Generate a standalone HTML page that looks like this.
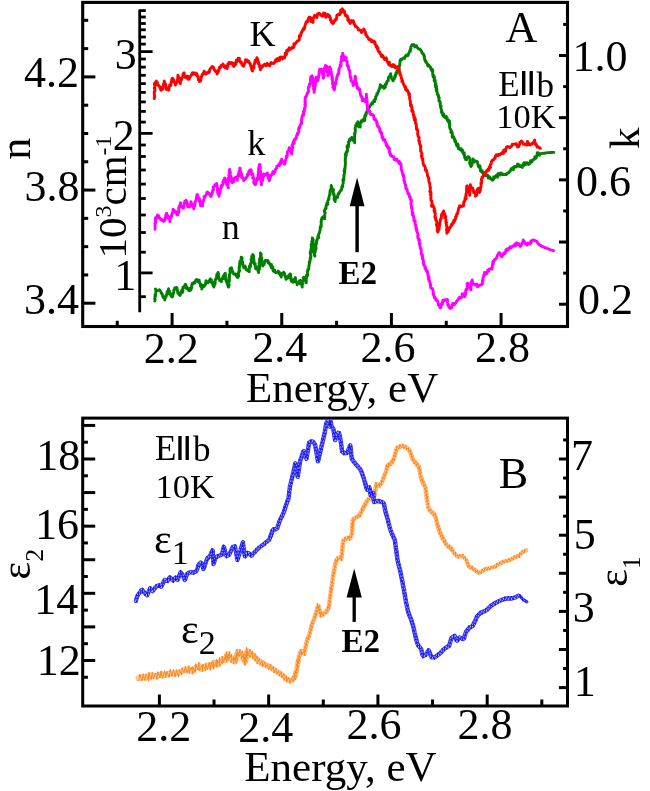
<!DOCTYPE html>
<html><head><meta charset="utf-8"><title>Optical constants</title>
<style>html,body{margin:0;padding:0;background:#fff;overflow:hidden}svg{display:block}</style></head>
<body><svg width="650" height="791" viewBox="0 0 650 791">
<defs><clipPath id="clipB"><rect x="84" y="419.5" width="482" height="285"/></clipPath></defs>
<rect width="650" height="791" fill="#fff"/>
<rect x="82.7" y="2.4" width="484.8" height="324.1" fill="none" stroke="#000" stroke-width="3.1"/>
<line x1="82.70" y1="20.32" x2="88.20" y2="20.32" stroke="#000" stroke-width="3"/>
<line x1="82.70" y1="48.61" x2="88.20" y2="48.61" stroke="#000" stroke-width="3"/>
<line x1="82.70" y1="76.90" x2="95.40" y2="76.90" stroke="#000" stroke-width="3"/>
<line x1="82.70" y1="105.19" x2="88.20" y2="105.19" stroke="#000" stroke-width="3"/>
<line x1="82.70" y1="133.48" x2="88.20" y2="133.48" stroke="#000" stroke-width="3"/>
<line x1="82.70" y1="161.77" x2="88.20" y2="161.77" stroke="#000" stroke-width="3"/>
<line x1="82.70" y1="190.06" x2="95.40" y2="190.06" stroke="#000" stroke-width="3"/>
<line x1="82.70" y1="218.35" x2="88.20" y2="218.35" stroke="#000" stroke-width="3"/>
<line x1="82.70" y1="246.64" x2="88.20" y2="246.64" stroke="#000" stroke-width="3"/>
<line x1="82.70" y1="274.93" x2="88.20" y2="274.93" stroke="#000" stroke-width="3"/>
<line x1="82.70" y1="303.22" x2="95.40" y2="303.22" stroke="#000" stroke-width="3"/>
<line x1="567.50" y1="24.41" x2="563.20" y2="24.41" stroke="#000" stroke-width="3"/>
<line x1="567.50" y1="55.50" x2="559.00" y2="55.50" stroke="#000" stroke-width="3"/>
<line x1="567.50" y1="86.59" x2="563.20" y2="86.59" stroke="#000" stroke-width="3"/>
<line x1="567.50" y1="117.68" x2="559.00" y2="117.68" stroke="#000" stroke-width="3"/>
<line x1="567.50" y1="148.77" x2="563.20" y2="148.77" stroke="#000" stroke-width="3"/>
<line x1="567.50" y1="179.86" x2="559.00" y2="179.86" stroke="#000" stroke-width="3"/>
<line x1="567.50" y1="210.95" x2="563.20" y2="210.95" stroke="#000" stroke-width="3"/>
<line x1="567.50" y1="242.04" x2="559.00" y2="242.04" stroke="#000" stroke-width="3"/>
<line x1="567.50" y1="273.13" x2="563.20" y2="273.13" stroke="#000" stroke-width="3"/>
<line x1="567.50" y1="304.22" x2="559.00" y2="304.22" stroke="#000" stroke-width="3"/>
<line x1="117.27" y1="326.50" x2="117.27" y2="320.80" stroke="#000" stroke-width="3"/>
<line x1="172.10" y1="326.50" x2="172.10" y2="313.00" stroke="#000" stroke-width="3"/>
<line x1="226.93" y1="326.50" x2="226.93" y2="320.80" stroke="#000" stroke-width="3"/>
<line x1="281.76" y1="326.50" x2="281.76" y2="313.00" stroke="#000" stroke-width="3"/>
<line x1="336.59" y1="326.50" x2="336.59" y2="320.80" stroke="#000" stroke-width="3"/>
<line x1="391.42" y1="326.50" x2="391.42" y2="313.00" stroke="#000" stroke-width="3"/>
<line x1="446.25" y1="326.50" x2="446.25" y2="320.80" stroke="#000" stroke-width="3"/>
<line x1="501.08" y1="326.50" x2="501.08" y2="313.00" stroke="#000" stroke-width="3"/>
<line x1="139.70" y1="9.60" x2="139.70" y2="312.30" stroke="#000" stroke-width="2.8"/>
<line x1="139.70" y1="10.60" x2="145.80" y2="10.60" stroke="#000" stroke-width="2.8"/>
<line x1="139.70" y1="17.00" x2="145.80" y2="17.00" stroke="#000" stroke-width="2.8"/>
<line x1="139.70" y1="23.50" x2="145.80" y2="23.50" stroke="#000" stroke-width="2.8"/>
<line x1="139.70" y1="29.80" x2="145.80" y2="29.80" stroke="#000" stroke-width="2.8"/>
<line x1="139.70" y1="37.00" x2="145.80" y2="37.00" stroke="#000" stroke-width="2.8"/>
<line x1="139.70" y1="44.10" x2="145.80" y2="44.10" stroke="#000" stroke-width="2.8"/>
<line x1="139.70" y1="59.00" x2="145.80" y2="59.00" stroke="#000" stroke-width="2.8"/>
<line x1="139.70" y1="67.10" x2="145.80" y2="67.10" stroke="#000" stroke-width="2.8"/>
<line x1="139.70" y1="75.30" x2="145.80" y2="75.30" stroke="#000" stroke-width="2.8"/>
<line x1="139.70" y1="83.60" x2="145.80" y2="83.60" stroke="#000" stroke-width="2.8"/>
<line x1="139.70" y1="92.40" x2="145.80" y2="92.40" stroke="#000" stroke-width="2.8"/>
<line x1="139.70" y1="101.90" x2="145.80" y2="101.90" stroke="#000" stroke-width="2.8"/>
<line x1="139.70" y1="111.40" x2="145.80" y2="111.40" stroke="#000" stroke-width="2.8"/>
<line x1="139.70" y1="122.10" x2="145.80" y2="122.10" stroke="#000" stroke-width="2.8"/>
<line x1="139.70" y1="145.00" x2="145.80" y2="145.00" stroke="#000" stroke-width="2.8"/>
<line x1="139.70" y1="156.50" x2="145.80" y2="156.50" stroke="#000" stroke-width="2.8"/>
<line x1="139.70" y1="170.00" x2="145.80" y2="170.00" stroke="#000" stroke-width="2.8"/>
<line x1="139.70" y1="184.10" x2="145.80" y2="184.10" stroke="#000" stroke-width="2.8"/>
<line x1="139.70" y1="198.50" x2="145.80" y2="198.50" stroke="#000" stroke-width="2.8"/>
<line x1="139.70" y1="215.00" x2="145.80" y2="215.00" stroke="#000" stroke-width="2.8"/>
<line x1="139.70" y1="232.50" x2="145.80" y2="232.50" stroke="#000" stroke-width="2.8"/>
<line x1="139.70" y1="252.20" x2="145.80" y2="252.20" stroke="#000" stroke-width="2.8"/>
<line x1="139.70" y1="296.70" x2="145.80" y2="296.70" stroke="#000" stroke-width="2.8"/>
<line x1="139.70" y1="51.60" x2="152.60" y2="51.60" stroke="#000" stroke-width="2.8"/>
<line x1="139.70" y1="133.40" x2="152.60" y2="133.40" stroke="#000" stroke-width="2.8"/>
<line x1="139.70" y1="272.90" x2="152.60" y2="272.90" stroke="#000" stroke-width="2.8"/>
<rect x="82.7" y="418.1" width="484.8" height="287.9" fill="none" stroke="#000" stroke-width="3"/>
<line x1="82.70" y1="425.42" x2="95.20" y2="425.42" stroke="#000" stroke-width="3"/>
<line x1="82.70" y1="442.21" x2="87.90" y2="442.21" stroke="#000" stroke-width="3"/>
<line x1="82.70" y1="459.00" x2="95.20" y2="459.00" stroke="#000" stroke-width="3"/>
<line x1="82.70" y1="475.79" x2="87.90" y2="475.79" stroke="#000" stroke-width="3"/>
<line x1="82.70" y1="492.58" x2="95.20" y2="492.58" stroke="#000" stroke-width="3"/>
<line x1="82.70" y1="509.37" x2="87.90" y2="509.37" stroke="#000" stroke-width="3"/>
<line x1="82.70" y1="526.16" x2="95.20" y2="526.16" stroke="#000" stroke-width="3"/>
<line x1="82.70" y1="542.95" x2="87.90" y2="542.95" stroke="#000" stroke-width="3"/>
<line x1="82.70" y1="559.74" x2="95.20" y2="559.74" stroke="#000" stroke-width="3"/>
<line x1="82.70" y1="576.53" x2="87.90" y2="576.53" stroke="#000" stroke-width="3"/>
<line x1="82.70" y1="593.32" x2="95.20" y2="593.32" stroke="#000" stroke-width="3"/>
<line x1="82.70" y1="610.11" x2="87.90" y2="610.11" stroke="#000" stroke-width="3"/>
<line x1="82.70" y1="626.90" x2="95.20" y2="626.90" stroke="#000" stroke-width="3"/>
<line x1="82.70" y1="643.69" x2="87.90" y2="643.69" stroke="#000" stroke-width="3"/>
<line x1="82.70" y1="660.48" x2="95.20" y2="660.48" stroke="#000" stroke-width="3"/>
<line x1="82.70" y1="677.27" x2="87.90" y2="677.27" stroke="#000" stroke-width="3"/>
<line x1="567.50" y1="439.95" x2="563.10" y2="439.95" stroke="#000" stroke-width="3"/>
<line x1="567.50" y1="459.00" x2="558.90" y2="459.00" stroke="#000" stroke-width="3"/>
<line x1="567.50" y1="478.05" x2="563.10" y2="478.05" stroke="#000" stroke-width="3"/>
<line x1="567.50" y1="497.10" x2="558.90" y2="497.10" stroke="#000" stroke-width="3"/>
<line x1="567.50" y1="516.15" x2="563.10" y2="516.15" stroke="#000" stroke-width="3"/>
<line x1="567.50" y1="535.20" x2="558.90" y2="535.20" stroke="#000" stroke-width="3"/>
<line x1="567.50" y1="554.25" x2="563.10" y2="554.25" stroke="#000" stroke-width="3"/>
<line x1="567.50" y1="573.30" x2="558.90" y2="573.30" stroke="#000" stroke-width="3"/>
<line x1="567.50" y1="592.35" x2="563.10" y2="592.35" stroke="#000" stroke-width="3"/>
<line x1="567.50" y1="611.40" x2="558.90" y2="611.40" stroke="#000" stroke-width="3"/>
<line x1="567.50" y1="630.45" x2="563.10" y2="630.45" stroke="#000" stroke-width="3"/>
<line x1="567.50" y1="649.50" x2="558.90" y2="649.50" stroke="#000" stroke-width="3"/>
<line x1="567.50" y1="668.55" x2="563.10" y2="668.55" stroke="#000" stroke-width="3"/>
<line x1="567.50" y1="687.60" x2="558.90" y2="687.60" stroke="#000" stroke-width="3"/>
<line x1="159.40" y1="706.00" x2="159.40" y2="694.50" stroke="#000" stroke-width="3"/>
<line x1="214.03" y1="706.00" x2="214.03" y2="699.50" stroke="#000" stroke-width="3"/>
<line x1="268.66" y1="706.00" x2="268.66" y2="694.50" stroke="#000" stroke-width="3"/>
<line x1="323.29" y1="706.00" x2="323.29" y2="699.50" stroke="#000" stroke-width="3"/>
<line x1="377.92" y1="706.00" x2="377.92" y2="694.50" stroke="#000" stroke-width="3"/>
<line x1="432.55" y1="706.00" x2="432.55" y2="699.50" stroke="#000" stroke-width="3"/>
<line x1="487.18" y1="706.00" x2="487.18" y2="694.50" stroke="#000" stroke-width="3"/>
<line x1="541.81" y1="706.00" x2="541.81" y2="699.50" stroke="#000" stroke-width="3"/>
<line x1="357.1" y1="205.2" x2="357.1" y2="252.2" stroke="#000" stroke-width="3.4"/>
<polygon points="357.1,177.4 349.70000000000005,206.2 364.5,206.2" fill="#000"/>
<line x1="354.2" y1="596.4" x2="354.2" y2="621.9" stroke="#000" stroke-width="3.3"/>
<polygon points="354.2,568.5 346.59999999999997,597.4 361.8,597.4" fill="#000"/>
<polyline points="154.8,301.1 155.2,299.8 155.2,299.8 154.7,299.3 154.8,298.1 154.9,295.9 155.3,297.4 155.1,294.4 155.6,295.8 155.7,293.0 156.1,290.8 156.1,290.6 155.4,289.0 156.2,291.3 157.1,290.8 158.5,290.4 159.3,289.7 159.8,290.4 161.0,292.0 161.2,293.4 161.8,293.3 162.7,295.5 162.6,295.9 163.4,297.8 164.1,296.6 164.9,296.9 164.8,300.0 164.9,298.3 165.1,298.0 166.1,296.7 166.5,294.9 166.6,294.9 166.8,293.4 167.4,294.2 167.3,292.2 167.2,291.4 168.1,291.5 168.6,288.8 168.6,291.0 168.8,291.2 169.4,290.9 169.7,294.0 170.3,293.1 171.0,296.1 171.2,295.5 172.1,297.1 172.8,296.1 172.6,293.7 173.1,294.3 174.1,290.9 173.7,290.3 174.1,290.2 174.9,288.5 174.7,288.1 175.4,287.7 176.4,287.9 176.3,288.5 176.9,287.6 177.5,291.0 177.8,291.9 177.7,291.5 177.8,293.2 178.1,292.2 178.7,293.5 179.2,294.0 179.2,294.7 179.8,294.6 180.1,295.4 181.2,292.1 181.3,291.8 181.8,290.2 182.8,292.2 182.8,289.6 182.9,287.4 183.6,287.1 184.5,285.8 184.2,287.6 185.2,284.4 185.9,284.7 186.6,288.6 187.7,288.3 187.7,287.9 188.4,290.0 189.4,290.8 189.8,288.4 190.7,290.1 191.3,288.6 191.7,287.5 191.6,285.9 192.2,283.4 192.3,283.3 193.0,283.9 194.2,282.2 194.7,283.1 195.7,280.7 195.9,279.9 196.8,279.5 198.2,281.6 199.2,280.1 199.4,282.1 199.2,282.6 200.4,283.9 200.6,283.8 200.4,285.8 201.0,286.8 202.0,286.3 201.8,289.1 202.7,285.9 202.8,285.1 204.2,286.5 204.1,285.8 205.6,284.5 205.6,283.4 206.0,280.8 207.7,282.4 208.0,282.8 208.8,282.0 210.0,279.2 210.3,278.9 211.0,279.7 211.4,280.0 211.6,282.6 212.2,282.0 212.8,284.5 213.0,285.5 213.4,285.1 213.8,284.3 214.1,285.8 213.9,287.0 214.3,284.9 215.0,284.2 214.8,283.1 215.3,283.0 215.0,281.3 215.4,279.4 216.1,279.2 216.1,279.0 216.7,277.0 216.6,276.2 216.7,275.9 216.8,274.4 217.1,274.8 217.5,273.6 218.1,272.4 218.0,275.7 218.7,273.9 218.3,275.9 218.6,276.1 218.9,278.5 220.0,280.2 219.7,280.6 220.5,279.5 221.4,281.6 221.3,280.8 222.1,278.4 223.3,278.8 223.0,276.6 224.0,275.5 224.2,274.6 225.3,273.2 225.4,275.6 225.2,276.2 226.1,277.7 225.8,280.3 226.8,281.2 226.4,279.8 226.7,282.5 227.2,281.2 227.6,284.8 228.3,283.6 228.0,286.8 228.7,287.0 228.4,285.0 229.1,285.3 228.6,286.0 229.2,284.6 228.8,283.8 228.8,282.8 229.3,280.0 229.5,281.0 229.3,277.3 229.6,276.7 229.3,275.4 229.3,274.6 229.7,273.9 230.2,272.9 230.0,271.5 230.0,270.0 230.0,269.0 230.5,269.8 230.1,268.5 231.4,267.8 231.9,269.7 232.2,271.9 232.8,271.5 233.7,273.9 234.0,274.2 235.1,274.2 235.5,273.9 235.8,273.9 236.6,276.7 237.5,275.4 237.8,277.6 238.7,276.0 238.3,273.6 238.4,273.3 238.5,272.3 238.7,273.1 239.6,270.7 239.0,271.1 239.3,268.0 239.1,267.1 239.7,266.6 239.6,265.6 239.6,263.8 239.8,263.2 239.9,261.0 240.4,260.7 240.8,260.7 241.1,260.2 241.3,259.9 241.1,257.1 242.0,257.5 242.0,260.1 241.5,261.8 242.7,262.0 242.8,263.6 242.4,263.6 243.0,265.6 243.6,266.6 243.8,267.7 244.6,267.6 245.0,266.0 245.7,267.7 246.4,270.0 247.6,270.0 248.2,271.0 248.6,269.5 249.2,271.7 249.2,270.0 249.6,267.5 249.9,267.1 249.4,266.2 250.3,265.0 250.5,266.6 250.5,263.7 250.7,263.7 251.2,262.5 251.3,259.7 251.1,259.3 251.9,258.5 251.9,256.6 251.6,256.4 252.5,256.9 252.7,254.6 252.8,254.8 252.9,254.6 253.5,255.8 253.8,259.3 253.0,258.7 254.1,261.4 253.9,260.0 253.8,263.3 254.0,263.0 254.1,263.8 255.2,263.4 255.2,265.7 255.7,267.3 255.6,268.7 256.4,266.6 256.5,269.0 257.6,269.2 257.8,270.1 258.6,272.6 258.4,271.4 259.3,268.3 259.5,269.3 259.6,266.9 259.1,266.2 259.8,265.9 259.3,264.3 259.3,262.0 259.2,263.7 259.4,263.1 259.5,259.8 259.8,258.5 259.8,260.2 260.4,258.7 260.2,258.0 260.6,255.8 260.5,253.1 260.6,253.5 260.7,254.1 260.4,253.0 261.3,254.3 261.0,256.0 261.0,258.3 261.8,257.7 261.7,258.8 261.8,260.1 261.5,260.3 261.7,263.8 262.2,262.5 262.8,266.1 262.5,264.2 262.5,264.6 263.0,263.7 263.3,263.4 264.0,264.6 264.6,262.1 264.6,261.5 265.2,260.4 265.7,260.6 267.6,260.5 268.0,262.7 269.0,262.0 269.0,262.9 269.8,264.4 271.0,266.5 271.5,264.5 271.2,267.7 272.6,267.7 272.8,266.9 273.1,270.9 274.1,271.6 274.8,270.3 274.4,270.9 275.7,272.7 277.0,272.4 277.7,272.2 278.4,271.1 278.6,272.3 279.1,273.7 279.9,272.6 279.7,273.3 280.6,275.8 280.5,274.6 281.2,277.1 281.6,275.0 282.2,273.4 282.4,274.0 283.5,273.8 283.9,272.3 283.6,272.3 284.7,274.7 284.5,273.3 285.1,276.5 285.4,276.0 286.0,279.2 286.0,277.1 286.6,278.6 287.5,277.0 288.2,278.1 288.5,275.5 289.5,275.0 290.0,273.9 290.0,274.9 290.3,276.1 290.7,274.4 290.6,276.2 291.3,279.0 290.9,278.1 291.2,281.0 291.3,278.9 291.4,281.0 292.9,282.2 293.5,281.9 294.4,278.9 294.4,280.3 295.4,277.5 295.5,279.6 295.5,280.4 295.5,280.3 295.9,282.4 296.8,282.6 297.2,283.4 297.2,284.7 298.3,282.6 298.1,282.0 299.1,282.7 299.4,280.7 300.5,280.5 300.4,284.1 301.2,282.4 300.8,283.3 302.1,284.9 302.2,287.1 302.0,283.9 302.8,284.1 302.3,283.5 302.5,281.0 302.4,281.7 303.5,280.3 303.7,277.2 303.2,277.7 304.4,280.0 304.2,278.5 304.7,280.2 305.7,280.1 306.0,282.9 306.3,282.5 306.2,280.0 306.1,279.2 306.7,277.2 306.3,278.5 306.5,275.2 306.5,275.9 307.0,276.3 307.7,275.4 307.3,271.3 307.3,271.7 308.1,270.6 307.8,269.5 308.4,269.4 308.8,269.0 308.9,265.6 309.3,265.2 309.2,264.5 309.5,262.9 309.2,262.1 309.4,263.3 310.0,260.4 310.0,261.7 310.2,258.1 310.6,258.5 310.9,255.7 310.4,257.1 310.9,256.4 310.2,253.3 310.3,252.0 311.3,252.3 311.3,250.6 311.4,249.9 310.8,250.0 311.7,246.7 311.5,247.5 311.2,245.6 311.3,244.1 311.6,244.4 312.2,242.1 311.7,241.5 312.5,240.1 312.3,239.1 312.9,239.3 312.3,237.9 312.8,240.4 313.2,239.8 312.8,242.9 313.2,242.5 313.2,245.7 313.3,245.4 313.5,245.9 314.1,248.9 313.7,247.1 314.2,248.2 313.6,251.5 314.2,252.2 314.3,253.4 314.4,252.0 314.1,254.3 314.9,256.1 314.4,254.1 314.8,252.7 314.7,251.0 315.2,252.2 314.9,249.7 315.7,250.3 315.2,246.5 316.1,248.4 315.7,244.2 316.3,244.4 316.4,244.2 316.4,241.6 316.5,240.8 316.5,242.0 317.4,238.9 317.2,238.7 318.0,237.8 317.9,236.4 318.8,237.6 318.3,235.5 319.3,232.8 319.6,232.1 319.6,232.6 319.9,230.8 319.9,230.7 320.1,230.0 320.3,228.3 320.1,227.9 320.8,225.6 321.3,226.5 321.2,223.5 321.3,222.3 321.1,222.4 321.1,221.4 321.6,219.1 321.8,218.2 322.0,219.6 322.7,217.0 323.7,218.1 324.8,216.9 324.7,218.8 324.7,217.2 324.2,216.8 324.6,215.7 325.1,212.0 325.0,213.6 324.3,210.6 325.2,209.0 325.7,208.5 325.9,207.1 326.0,208.8 326.1,205.6 326.7,204.9 326.6,203.5 327.0,205.1 327.9,204.0 327.6,202.7 327.8,200.8 328.5,199.3 329.0,199.0 328.9,199.1 328.6,198.5 329.4,195.5 329.8,194.1 330.2,194.2 329.8,193.8 330.1,190.9 330.7,189.4 331.0,189.2 331.1,190.7 331.2,188.6 331.2,185.4 331.4,186.8 332.4,188.7 332.8,191.1 332.8,189.8 333.6,190.0 333.1,192.1 333.4,193.1 333.7,194.9 334.2,194.6 334.4,196.5 334.0,199.0 334.3,197.3 334.3,200.0 335.2,201.5 335.2,199.2 335.3,199.6 336.3,197.7 336.9,197.2 337.7,197.3 337.5,197.0 337.8,194.9 338.7,193.1 338.9,194.1 339.4,192.4 340.8,190.2 340.5,190.8 341.3,190.1 342.0,187.6 341.8,187.0 341.8,188.1 342.8,186.5 342.2,186.0 343.1,183.7 343.3,182.7 342.9,180.5 343.1,179.3 343.3,180.7 343.8,180.1 343.9,177.1 343.9,176.7 344.2,176.0 343.8,175.4 344.6,173.0 344.7,171.3 344.1,171.0 344.7,172.5 344.8,169.4 345.1,168.4 344.5,169.3 345.0,167.6 345.2,167.6 345.1,166.1 345.4,165.2 345.3,163.8 345.5,161.3 345.2,161.4 345.2,161.4 345.3,157.4 345.4,159.5 345.7,155.8 345.4,154.5 346.2,155.5 346.3,154.8 345.7,153.3 346.2,153.1 347.0,152.4 346.5,151.4 347.6,150.7 347.1,147.2 347.3,145.7 348.4,147.3 348.4,146.4 348.7,143.6 348.4,142.0 349.4,141.4 349.2,141.2 349.3,139.7 350.1,140.5 350.7,138.3 351.9,138.0 352.3,137.6 351.8,137.5 352.6,139.6 352.9,140.3 353.5,139.5 354.2,140.0 354.6,141.2 353.9,141.1 354.8,142.7 354.1,140.0 354.6,140.1 354.4,138.1 354.6,138.2 354.6,137.6 354.6,134.1 355.1,134.1 354.6,133.6 354.6,133.1 355.3,132.1 355.3,129.6 355.1,128.7 355.7,126.7 356.0,125.5 355.6,125.4 356.7,125.3 356.5,125.6 356.7,123.3 357.3,123.3 357.9,122.0 357.8,121.7 357.8,124.4 358.6,125.0 358.3,124.9 359.2,126.4 358.8,126.9 359.8,126.9 359.4,126.1 360.3,127.0 360.0,123.7 360.4,123.4 361.0,121.8 361.1,121.0 362.1,121.9 361.7,122.0 362.7,119.7 364.6,120.8 364.8,118.8 364.5,118.5 364.8,116.1 365.3,114.6 365.7,116.2 366.2,114.2 366.4,113.1 366.2,112.6 366.7,112.1 367.5,110.1 367.4,110.2 367.5,107.5 368.4,108.9 369.1,107.6 369.9,106.8 370.4,105.4 370.8,105.2 371.2,103.7 372.5,103.9 372.9,101.6 373.3,101.5 374.1,100.5 374.8,101.5 374.6,99.6 375.6,97.8 375.7,98.9 375.6,96.5 376.1,96.3 377.3,94.5 376.8,93.8 377.6,93.3 378.0,92.2 378.7,90.9 378.7,91.4 378.9,89.6 379.5,88.9 379.6,88.8 380.3,84.7 380.7,85.1 381.2,85.7 382.5,87.2 383.3,86.2 384.0,88.3 385.3,87.2 384.9,87.2 385.4,84.2 385.5,85.2 386.5,83.8 386.5,82.6 386.6,83.0 387.3,81.1 388.2,80.8 388.4,78.1 388.9,76.7 389.7,76.6 390.2,75.4 390.2,74.5 390.8,73.7 390.6,76.4 391.1,75.8 391.4,77.5 391.8,79.0 392.3,79.1 393.1,80.8 392.8,79.9 394.3,79.0 394.2,78.4 395.3,74.8 395.1,77.2 396.2,73.9 396.0,72.6 396.5,73.8 397.1,70.8 398.0,72.0 397.6,71.4 398.3,70.1 398.7,69.5 399.1,68.4 398.7,66.9 399.4,66.1 399.6,65.6 400.0,62.6 399.9,61.2 400.5,60.0 400.8,59.3 401.1,59.6 401.5,59.9 401.8,59.3 403.2,58.0 404.3,58.6 405.0,56.8 406.3,55.0 406.6,56.1 406.6,55.3 408.0,55.6 408.2,55.0 409.1,52.5 410.1,50.2 410.4,51.4 410.2,51.2 410.5,48.9 410.9,49.0 410.8,46.8 411.2,46.3 412.1,44.7 413.1,45.1 413.8,44.6 414.8,47.0 415.9,46.6 416.3,45.7 417.0,47.2 418.2,48.5 418.3,48.9 419.9,49.0 419.6,49.0 420.2,49.4 421.7,51.7 422.0,53.1 422.9,53.3 423.2,54.1 423.6,55.0 423.8,54.6 424.1,56.4 424.5,56.2 424.2,56.9 425.1,60.9 425.2,60.0 425.7,62.3 426.0,61.4 426.4,62.7 427.0,63.5 427.9,66.0 428.0,65.5 428.6,64.8 430.0,67.1 430.8,67.4 430.5,68.0 431.7,70.6 432.7,69.8 432.4,69.5 432.9,70.9 432.6,71.2 432.7,74.4 433.0,76.4 433.2,77.0 433.5,75.1 434.3,76.8 434.5,77.6 434.1,80.6 435.0,81.8 435.2,80.2 435.3,83.3 435.3,85.0 435.3,86.1 436.0,83.9 435.5,87.0 436.5,86.1 436.2,89.2 436.3,90.7 436.8,88.9 436.9,91.6 437.3,92.9 437.3,94.3 437.8,94.7 438.4,94.9 438.4,97.1 439.2,98.1 439.1,97.4 438.9,100.7 439.7,101.2 439.5,101.4 440.4,103.1 440.2,102.3 440.2,105.3 440.4,105.6 440.8,107.3 441.2,106.2 440.6,107.1 441.2,109.2 441.8,111.2 441.2,112.0 442.2,113.1 442.2,112.0 442.7,114.8 443.2,115.9 443.5,113.8 444.4,116.9 444.8,117.5 446.2,116.4 446.6,118.7 447.1,117.8 447.5,120.5 448.6,120.3 448.5,122.2 449.6,121.2 449.5,124.4 450.0,124.2 449.7,125.4 449.5,125.0 449.7,127.7 450.0,128.3 450.2,129.1 450.0,128.5 451.3,130.5 450.8,132.3 451.8,131.6 452.0,133.2 452.3,133.0 452.2,137.3 453.4,136.5 453.5,136.6 454.1,138.1 454.7,140.2 455.0,141.7 454.9,139.5 455.3,140.8 455.6,141.3 456.5,145.0 456.9,146.1 457.8,144.0 458.2,145.9 458.3,148.6 459.1,148.0 460.2,150.0 460.9,148.9 461.3,148.8 462.5,152.4 462.4,149.9 462.8,151.9 463.9,154.7 464.2,152.7 464.5,155.9 464.7,157.8 464.5,155.8 465.6,159.5 465.9,158.2 466.5,159.8 466.9,157.8 468.0,156.7 468.9,156.9 468.9,157.8 469.7,158.3 470.0,159.8 469.6,163.3 470.1,164.3 471.1,165.1 470.6,164.5 470.9,166.6 472.0,164.7 472.0,162.8 472.8,162.3 473.0,160.3 473.0,159.0 474.0,160.4 474.3,162.0 475.2,161.0 476.0,161.1 477.5,161.9 477.6,163.0 478.2,165.3 478.4,166.4 478.8,167.1 479.8,165.7 480.0,166.8 480.1,167.5 480.6,171.1 481.6,171.8 481.0,170.6 482.2,170.7 482.4,172.5 483.0,172.5 483.4,174.2 483.7,173.4 485.4,175.5 485.6,175.5 487.3,175.1 487.8,175.3 488.2,178.1 489.5,176.8 489.6,177.1 490.9,179.1 491.4,178.8 492.5,180.3 493.5,179.3 493.7,177.0 495.0,177.5 495.8,175.7 496.7,176.0 497.5,177.2 497.9,173.6 499.1,174.5 499.8,173.2 500.0,175.0 501.2,172.9 502.2,174.5 502.8,174.3 504.2,174.5 504.8,174.6 506.3,174.6 506.7,173.6 507.6,173.2 508.1,173.1 509.9,171.3 510.3,170.9 511.2,168.7 512.5,168.8 512.5,167.9 513.4,169.8 514.0,166.7 515.4,166.4 515.5,167.1 516.8,166.2 517.7,164.1 518.7,166.2 518.7,164.7 520.0,166.5 520.7,165.8 521.6,165.9 522.3,167.5 522.4,165.7 523.6,163.5 524.2,165.3 524.3,162.7 525.5,162.7 526.0,164.5 527.3,162.7 527.7,163.0 528.6,164.5 529.7,163.6 530.5,162.7 530.4,160.8 532.1,161.8 532.4,159.9 533.8,159.5 534.6,158.2 534.9,158.8 534.8,156.6 536.2,157.9 536.6,156.4 536.8,156.4 537.3,152.6 537.5,152.6 538.5,152.9 539.4,155.3 540.3,153.7 541.3,153.6 542.3,153.4 543.3,153.4 544.2,153.2 545.3,153.0 546.2,152.8 547.2,152.6 548.2,152.6 549.2,152.6 550.2,152.5 551.2,152.5 552.3,152.4 553.2,152.4 553.8,152.4" fill="none" stroke="#008000" stroke-width="2.9" stroke-linejoin="round" stroke-linecap="round"/>
<polyline points="155.0,229.4 155.2,228.1 155.0,226.4 155.0,226.2 155.2,225.5 154.9,223.7 155.8,222.4 155.6,222.2 155.4,222.8 155.5,221.1 155.5,217.8 156.7,218.2 156.4,217.2 157.3,217.4 157.5,214.9 158.9,216.6 158.7,216.1 159.5,218.0 160.3,219.4 161.2,219.0 161.9,220.3 162.7,220.1 163.6,221.4 164.5,220.2 164.8,219.1 164.9,220.0 164.9,220.3 165.3,217.5 165.7,218.0 165.8,215.5 166.0,214.8 166.5,213.3 166.4,213.4 166.8,213.6 167.6,216.2 167.7,215.8 167.7,216.3 168.1,218.1 168.9,217.5 169.6,219.1 169.9,221.7 170.3,219.1 170.1,220.4 170.0,216.7 170.9,217.2 171.5,217.1 171.5,216.9 171.8,214.4 172.3,213.0 172.3,212.7 172.6,212.9 173.2,210.6 173.0,209.2 173.7,209.9 174.5,211.7 175.4,211.3 175.5,212.5 176.6,212.4 176.7,214.8 177.0,214.0 178.0,214.7 177.9,211.5 178.5,212.3 178.7,212.3 179.0,209.6 178.6,208.2 179.2,207.9 179.2,205.9 179.9,206.3 179.9,206.6 180.5,202.6 180.6,205.4 181.0,206.0 181.1,205.6 182.4,207.4 182.6,207.1 182.9,208.2 183.0,207.6 183.7,207.8 184.1,205.0 184.0,203.2 185.0,202.1 184.7,201.4 185.5,202.6 186.0,202.0 185.9,200.3 187.0,202.2 187.4,203.2 187.3,203.8 187.7,206.8 188.6,205.9 189.0,206.2 189.1,207.0 190.2,206.3 190.6,204.4 190.9,201.7 192.1,205.0 192.1,206.0 193.1,204.9 193.4,207.8 193.9,208.7 194.1,206.9 194.8,205.4 194.6,206.6 195.0,205.3 195.0,202.4 195.4,201.4 196.2,200.8 196.1,199.3 196.3,199.2 196.4,197.2 196.4,198.6 196.8,195.8 196.9,195.0 197.3,194.6 198.1,196.5 198.0,198.6 198.4,198.1 199.5,198.6 199.5,201.8 200.2,200.5 200.1,203.3 200.5,204.9 200.7,205.9 201.3,204.5 201.6,205.1 202.2,205.8 202.6,205.9 202.3,203.8 202.8,202.7 203.3,201.5 203.2,201.8 203.2,201.6 203.6,200.3 204.0,198.2 204.1,196.5 204.4,198.1 205.1,196.7 205.5,195.6 206.3,194.6 206.9,192.4 207.5,192.1 207.9,193.2 208.6,192.9 209.9,194.9 210.5,196.0 210.4,194.9 210.8,196.6 211.7,194.6 211.8,194.6 212.3,192.3 212.7,191.7 212.8,190.2 212.6,191.6 213.5,190.0 213.2,186.9 213.8,186.5 214.5,186.3 214.8,185.2 215.9,183.9 216.6,184.4 216.8,183.6 216.8,186.0 216.9,184.8 217.5,188.2 217.2,186.9 217.9,189.6 217.4,189.5 217.6,192.2 217.9,193.6 218.6,191.9 218.8,193.9 219.0,196.2 218.8,193.3 219.7,193.4 220.0,193.3 220.1,192.8 220.2,190.6 219.9,190.5 220.6,188.9 221.3,186.7 221.4,185.5 221.8,187.0 221.8,185.3 222.9,184.7 222.9,182.5 222.8,181.9 223.6,180.5 223.9,179.4 224.7,180.2 224.6,177.9 225.3,179.0 226.0,179.6 225.8,182.3 225.9,182.2 226.5,183.9 227.0,184.7 227.0,185.3 227.8,185.6 228.3,187.8 227.8,185.5 228.1,184.2 227.9,183.4 228.1,183.8 228.5,180.9 228.4,181.0 228.6,179.1 228.4,177.6 229.3,179.0 228.6,177.9 229.5,176.4 228.8,175.1 229.2,173.2 229.4,171.6 229.8,172.6 229.6,172.6 229.7,169.4 229.5,169.6 229.5,172.7 230.4,172.1 230.0,174.2 230.8,176.1 230.3,176.6 231.2,177.5 230.9,176.7 231.5,178.1 231.3,179.8 231.5,181.7 231.5,180.1 232.2,182.5 233.0,182.0 233.7,181.9 234.0,179.7 234.3,178.3 235.5,177.2 236.6,177.6 237.3,180.3 237.3,176.5 237.9,176.0 238.4,174.4 238.7,176.2 238.9,173.8 238.6,173.6 239.0,171.8 239.1,170.9 239.6,171.2 240.1,168.1 239.7,168.2 240.2,168.9 240.0,169.0 240.4,171.2 241.2,173.6 241.3,174.8 241.6,174.7 241.6,173.9 241.7,176.6 241.5,177.4 242.8,177.9 243.3,178.0 243.7,180.5 244.2,178.9 245.4,179.2 245.4,179.0 246.2,177.9 246.9,176.9 247.5,175.7 247.5,174.1 248.6,174.3 248.3,174.4 248.9,171.1 249.5,170.6 249.9,170.7 250.1,169.9 250.3,170.4 251.1,169.9 251.3,170.8 251.6,174.3 252.1,174.8 252.6,173.8 253.2,176.7 252.6,178.0 253.1,176.9 253.8,179.1 253.9,178.7 254.1,179.4 253.8,181.4 253.8,183.1 254.2,183.1 254.9,184.5 255.4,184.5 255.8,183.4 256.2,183.5 255.9,182.1 256.4,181.3 257.1,180.5 257.0,178.2 258.0,179.1 258.1,175.2 258.2,174.4 258.2,175.7 258.0,175.1 258.6,171.9 258.3,171.6 259.1,171.0 258.5,168.2 258.6,169.7 258.9,167.9 259.1,167.4 259.3,164.6 259.9,164.9 259.9,166.4 260.2,164.8 259.7,166.3 260.0,169.6 260.4,167.9 259.9,171.4 260.4,171.0 260.3,171.3 260.8,173.0 260.9,174.7 260.3,174.8 260.5,177.6 261.0,175.9 260.6,177.9 261.0,179.6 261.1,179.9 260.8,181.6 261.2,180.8 261.4,184.9 261.2,182.0 262.0,181.4 261.8,181.1 262.0,180.4 262.5,180.7 263.1,176.7 262.9,178.1 263.4,177.1 263.4,175.7 263.8,173.9 265.1,175.3 266.1,174.1 266.3,173.8 267.3,173.0 267.6,173.4 267.8,174.5 267.7,175.3 268.2,178.3 268.7,177.2 268.8,177.8 269.2,178.4 269.2,180.7 270.0,178.4 270.5,177.0 270.5,175.3 270.9,175.1 271.7,175.0 272.3,173.4 273.0,173.4 272.9,171.5 274.1,173.4 274.5,171.9 275.2,171.4 275.4,169.4 276.8,167.9 276.8,166.3 277.3,166.3 278.4,165.3 278.7,164.4 279.4,165.7 279.9,162.7 280.5,164.3 280.9,160.6 281.6,162.3 281.7,159.2 282.2,161.2 283.5,162.4 284.1,161.8 284.2,164.3 285.0,163.4 285.3,162.2 284.9,161.5 285.2,161.2 285.7,159.8 286.2,158.1 286.3,156.3 287.0,157.1 287.4,154.5 287.3,155.7 287.3,152.7 287.4,151.9 288.3,150.8 288.6,150.9 288.6,150.5 288.9,149.7 289.2,147.7 289.7,147.9 290.2,150.4 290.7,149.8 291.1,152.9 291.2,151.5 291.7,154.1 291.4,150.1 291.9,151.2 292.3,149.2 292.7,147.8 292.6,146.4 292.0,145.5 292.2,145.7 292.8,143.7 293.5,143.4 293.2,141.9 294.2,143.4 294.1,139.6 295.1,139.4 295.8,139.3 295.8,137.9 296.4,137.4 296.3,137.8 296.4,136.4 296.8,135.2 297.5,134.9 297.5,133.0 298.1,133.2 298.9,131.3 298.5,129.2 298.8,128.8 299.1,127.1 299.9,127.5 299.8,127.7 300.1,125.4 300.4,125.4 301.4,122.6 301.7,123.4 301.4,120.9 301.7,121.7 301.4,120.0 302.0,118.3 302.0,118.7 301.8,117.7 302.2,116.4 303.1,113.6 303.6,115.3 303.5,111.3 303.7,113.4 303.9,112.3 304.4,110.8 304.5,108.0 305.1,106.7 304.8,108.4 305.2,107.3 305.5,103.6 304.9,105.0 305.4,101.6 305.3,101.2 305.2,99.8 304.9,101.6 305.3,100.3 305.1,98.0 305.5,96.9 306.0,96.8 306.4,96.1 307.2,93.2 307.3,93.5 308.1,92.1 307.7,93.1 308.6,91.3 308.3,88.6 308.5,87.3 308.5,87.7 309.1,86.9 309.3,84.2 309.8,85.3 309.8,83.9 310.2,84.3 310.5,82.5 310.3,80.3 310.5,81.4 310.6,78.5 310.8,76.8 312.0,75.7 312.6,78.4 312.6,78.0 312.8,77.8 312.7,78.4 313.4,81.5 313.6,80.1 313.4,82.0 313.5,83.7 313.2,86.1 313.0,86.4 313.9,86.6 313.8,89.1 313.5,89.0 314.1,89.2 314.1,90.2 314.0,91.9 314.2,92.0 314.3,92.4 314.0,91.6 314.2,91.6 314.5,90.0 314.7,88.2 314.5,86.1 315.3,86.4 315.1,85.4 315.5,83.5 315.0,84.4 315.4,82.8 315.8,82.6 316.0,78.9 315.6,80.4 316.2,77.2 316.1,78.1 316.7,79.2 318.0,80.5 317.9,78.5 318.0,80.4 318.5,77.7 318.5,77.8 318.9,74.8 319.0,74.5 319.0,73.1 319.1,72.4 319.3,70.4 319.3,71.2 319.8,69.3 321.3,69.1 321.4,69.2 322.1,69.7 322.1,73.1 321.9,72.7 322.7,74.3 322.5,73.4 322.8,75.5 323.2,76.2 323.1,78.3 323.7,77.1 323.4,76.8 324.1,74.6 324.3,75.3 323.8,74.2 324.0,71.3 324.5,71.3 324.4,70.6 324.9,70.5 324.2,69.0 324.8,67.6 325.3,66.4 325.1,67.0 325.5,65.5 326.2,67.3 327.1,67.8 327.0,66.5 327.4,69.1 327.7,70.8 327.2,70.0 327.3,72.9 327.4,71.6 328.2,74.1 327.7,75.5 328.4,75.5 328.0,75.2 328.6,73.8 329.4,73.6 329.5,70.5 329.2,70.7 329.2,71.2 329.6,67.9 329.9,66.9 330.6,68.8 330.5,69.4 330.2,70.0 331.2,72.6 331.4,71.8 331.0,72.1 331.5,74.1 331.6,75.5 331.9,76.1 332.3,76.5 332.5,78.7 331.8,78.9 332.4,80.2 332.6,80.9 332.5,83.4 332.6,84.1 333.2,84.7 333.0,86.8 333.2,87.6 332.9,87.2 333.6,86.9 334.0,88.0 333.9,89.3 334.4,89.9 334.5,88.7 334.6,88.3 334.5,85.8 335.3,84.6 335.6,83.9 335.0,82.5 335.9,84.3 335.8,82.4 335.9,82.2 336.6,78.8 336.2,79.6 336.5,79.1 337.0,76.2 337.6,75.5 337.8,74.0 338.5,73.6 338.7,72.1 338.9,73.8 338.8,69.8 339.0,70.8 339.1,69.5 339.2,68.3 340.0,67.2 340.2,65.2 340.6,64.3 340.9,66.1 341.1,63.6 340.7,62.0 341.3,61.5 341.6,59.3 341.4,60.7 341.7,58.7 341.4,56.5 341.7,57.9 342.5,54.8 342.7,53.2 342.7,56.2 342.7,57.1 343.3,55.2 343.3,57.4 343.6,59.3 343.8,60.4 344.5,57.7 345.3,57.0 345.9,58.4 346.3,57.7 345.9,58.8 346.2,60.2 346.4,61.0 346.8,61.3 347.3,61.6 347.0,65.1 347.3,65.8 348.0,65.6 347.5,65.3 348.5,66.4 348.6,68.6 348.7,69.3 349.2,70.4 349.9,70.7 349.7,71.9 349.9,72.0 350.1,75.3 350.5,76.4 350.2,77.5 350.8,78.0 351.1,78.7 350.9,79.9 351.0,79.3 351.0,80.7 351.7,81.3 352.5,81.6 352.7,82.9 353.2,85.6 353.7,84.0 353.5,84.8 354.4,82.0 354.2,83.1 354.6,81.0 354.8,80.4 355.1,78.0 355.4,78.3 355.1,76.3 355.1,77.9 355.7,77.1 355.5,78.0 355.5,79.2 355.8,82.7 356.6,83.1 356.3,83.1 356.7,85.4 357.0,85.5 356.8,86.4 357.8,87.9 357.4,88.6 358.2,87.6 359.3,90.1 359.7,89.2 360.1,92.7 360.3,93.0 360.5,94.2 360.4,94.0 360.8,96.1 361.1,95.5 361.5,97.2 361.9,96.8 362.4,99.8 362.2,100.9 362.9,99.3 364.1,99.5 365.1,101.6 365.6,100.1 365.6,99.4 366.2,98.1 366.6,97.5 366.3,94.2 366.6,97.3 366.4,97.6 367.0,99.2 366.3,99.2 366.4,99.0 367.2,101.0 367.1,102.1 366.9,102.3 367.0,105.3 367.4,104.6 367.0,105.5 367.6,107.0 367.7,109.2 367.4,109.7 367.9,111.0 368.6,110.1 369.9,111.2 369.8,113.7 370.7,114.5 371.1,114.1 372.2,114.9 372.9,114.7 373.4,115.4 373.7,115.6 374.0,119.4 374.9,119.7 375.4,119.0 375.7,120.6 376.8,121.4 376.7,123.6 377.5,123.7 377.1,124.5 377.8,126.5 378.1,126.5 378.7,126.5 379.1,128.4 379.9,128.7 379.8,131.1 379.9,131.6 380.9,131.6 381.0,133.2 381.6,134.1 381.7,132.8 381.6,134.1 382.4,137.5 381.9,137.5 382.7,136.7 383.1,139.7 384.0,139.0 384.7,139.9 385.0,141.1 385.9,142.8 386.2,143.7 386.2,145.5 387.0,145.6 387.0,144.8 387.8,147.8 388.4,147.1 388.3,148.6 389.4,148.3 389.5,149.3 389.3,149.9 389.5,152.0 390.4,154.8 389.9,153.7 390.9,154.3 390.7,155.9 391.4,155.8 392.6,156.6 394.0,156.7 394.0,159.4 395.0,159.8 396.0,160.3 396.4,158.9 397.6,160.6 398.2,161.9 399.1,161.2 399.5,163.9 400.2,162.8 400.5,163.6 400.9,163.9 401.2,166.6 401.0,168.7 401.2,167.5 401.2,169.4 402.1,170.8 402.0,172.2 402.0,171.5 402.7,174.6 403.0,174.7 403.4,174.7 403.8,176.8 403.4,176.7 404.1,177.5 403.8,180.1 404.3,180.0 404.7,182.2 404.4,181.3 404.6,182.5 405.3,184.9 405.7,185.0 405.7,186.0 405.8,187.8 406.5,188.8 406.2,189.2 407.1,189.6 407.6,191.8 407.8,192.5 408.1,193.6 408.0,193.9 408.9,194.6 408.9,193.8 409.6,197.1 409.6,196.1 409.9,196.6 410.8,200.4 411.1,199.4 411.2,199.4 411.5,201.2 410.8,203.2 411.1,203.1 411.1,204.6 411.7,206.7 411.4,207.8 411.6,206.9 412.2,208.2 412.1,209.9 412.1,211.6 412.2,212.8 412.9,212.8 412.3,214.6 412.5,214.7 413.1,214.2 413.6,217.3 413.8,217.3 413.9,218.8 413.9,220.7 414.9,221.5 415.1,220.9 415.3,221.1 415.1,222.2 415.3,225.0 415.8,225.2 415.7,225.3 416.0,226.6 416.0,229.0 416.6,229.0 416.5,230.8 416.8,230.4 417.4,232.8 418.0,233.9 418.2,235.4 418.2,235.8 417.7,235.1 417.9,238.2 418.8,238.4 418.6,238.5 418.7,240.4 419.7,240.3 419.0,240.9 419.5,244.2 420.2,243.7 419.7,243.6 420.0,246.7 420.5,248.4 421.1,248.7 420.9,249.8 420.7,248.5 421.3,250.7 421.2,250.9 421.2,254.0 422.0,255.1 422.4,254.4 422.4,255.3 422.6,257.7 422.2,256.0 422.4,258.9 422.8,258.0 423.4,261.5 423.2,260.1 423.8,262.6 423.2,262.9 424.0,265.7 424.3,265.8 424.4,265.5 425.4,266.9 425.0,268.5 425.4,268.1 426.1,270.3 426.6,271.6 426.8,270.5 427.5,271.4 427.6,273.4 428.2,275.3 428.0,276.1 428.7,276.5 428.4,278.9 429.1,277.1 429.0,281.1 429.2,280.1 430.0,282.5 430.1,283.2 429.7,282.1 430.9,285.3 430.2,283.9 430.7,287.7 430.9,287.8 431.9,288.7 432.3,288.4 431.9,288.5 432.8,289.7 433.4,292.6 433.0,293.8 433.4,293.8 433.7,295.6 434.8,297.0 434.3,297.7 435.2,298.5 435.6,298.8 436.1,300.3 436.0,298.8 436.8,300.5 437.1,300.5 437.8,301.5 438.3,304.9 438.4,303.6 438.9,304.8 439.1,305.4 440.1,307.7 439.9,306.2 440.7,307.7 441.3,304.5 441.2,304.2 442.1,302.8 442.3,304.6 442.9,300.6 442.8,300.1 444.1,300.9 444.7,299.8 445.3,299.6 446.2,299.8 446.7,299.9 447.2,301.0 447.4,299.4 447.6,302.9 447.7,304.0 447.8,305.1 448.3,305.3 448.5,305.0 448.9,306.0 448.9,307.3 450.3,308.2 451.0,307.8 451.6,307.8 452.2,304.8 452.4,304.6 452.9,303.3 454.4,304.8 454.6,303.6 455.7,303.2 456.5,301.4 456.5,301.6 457.4,300.3 458.2,299.3 459.4,297.3 459.7,298.2 460.4,298.4 461.0,297.6 462.0,297.1 462.1,294.0 463.0,295.5 463.5,293.7 464.9,296.7 464.8,294.6 465.6,294.4 465.9,293.7 465.6,291.1 465.7,291.5 466.1,289.2 467.1,289.4 467.0,288.5 467.2,287.7 467.2,284.7 467.2,283.5 467.7,283.0 467.7,283.1 468.8,284.6 468.4,285.8 468.6,284.6 469.0,286.6 469.7,287.7 470.0,287.5 470.5,289.2 470.7,289.2 470.8,289.0 471.0,289.9 471.0,287.2 470.5,285.9 471.5,284.9 471.4,285.2 471.6,283.0 471.2,281.7 472.2,281.6 472.0,281.2 472.2,280.0 472.7,283.2 473.5,284.2 474.5,284.1 475.0,285.0 475.9,284.3 476.9,284.1 477.5,286.9 478.3,286.2 479.5,285.7 479.8,285.1 480.8,284.9 481.8,284.7 482.4,282.5 482.5,284.0 482.4,280.5 482.8,279.8 483.1,280.7 483.0,277.9 483.6,277.1 483.6,277.0 483.8,274.8 484.3,275.1 485.1,274.4 484.5,272.4 485.9,272.9 486.8,273.6 487.7,270.3 488.6,271.1 488.7,269.4 490.2,269.0 490.4,268.8 492.1,269.1 492.3,267.0 492.2,266.8 492.2,267.0 492.5,264.2 493.3,264.4 492.8,261.9 493.4,262.6 493.0,261.4 494.3,260.8 494.3,259.9 495.2,259.5 495.3,259.2 496.6,258.1 497.1,256.1 497.8,254.7 497.7,255.2 498.9,252.8 499.1,252.6 500.2,253.4 500.8,255.8 502.1,256.7 502.5,255.1 502.8,255.2 503.7,253.0 504.6,253.7 505.2,253.1 506.0,249.8 506.8,249.0 507.8,249.3 507.9,250.4 508.9,248.0 509.7,248.3 510.2,246.8 511.2,247.8 512.0,246.6 513.1,245.7 514.3,246.1 514.8,244.1 515.6,245.9 516.6,242.8 517.7,244.5 518.7,243.5 518.8,244.6 519.8,245.9 520.3,246.5 521.2,245.6 522.1,243.0 522.7,242.7 522.5,243.5 523.2,240.0 524.2,241.5 525.6,244.0 525.8,243.6 527.0,245.1 527.6,244.5 527.9,243.0 529.2,243.5 530.1,243.9 531.0,241.0 531.0,242.7 532.4,240.1 533.5,240.0 534.0,240.1 535.2,240.8 535.6,241.1 536.7,241.1 537.1,242.1 537.6,242.8 538.2,243.7 538.8,244.4 539.6,245.1 540.5,245.4 541.4,245.8 542.3,246.5 543.2,246.7 544.1,247.2 545.0,247.8 545.9,247.9 546.8,248.3 547.7,248.6 548.7,249.0 549.6,249.4 550.6,249.8 551.5,250.1 552.5,250.3 553.4,250.6 553.5,250.7" fill="none" stroke="#ff00ff" stroke-width="2.9" stroke-linejoin="round" stroke-linecap="round"/>
<polyline points="154.2,98.5 154.6,97.1 154.5,95.4 154.6,95.5 154.2,93.9 154.4,91.2 154.9,91.3 155.0,91.2 154.8,88.0 154.3,88.1 155.0,86.3 154.4,84.4 154.6,85.6 154.5,83.2 154.8,83.7 156.3,81.0 156.1,84.2 157.5,82.5 157.4,84.6 157.9,85.1 158.7,85.4 158.8,85.6 159.5,86.5 160.6,89.2 161.0,90.2 162.2,89.4 162.4,88.8 163.0,89.0 162.4,86.8 163.2,86.5 163.5,85.1 163.8,85.9 163.3,84.2 163.6,83.7 164.4,82.9 164.2,81.0 164.9,83.5 164.7,83.3 165.5,83.9 165.8,85.3 165.8,86.8 166.4,88.7 166.5,89.5 167.5,88.6 168.7,90.2 169.0,89.9 168.9,87.0 169.7,85.9 169.6,84.9 170.5,85.9 170.8,85.4 171.3,82.4 171.2,82.8 171.4,81.5 171.9,78.8 172.7,78.3 173.6,81.1 173.5,79.9 173.7,81.7 174.5,82.2 175.1,83.6 175.6,83.2 175.4,85.0 176.0,83.7 176.5,82.7 176.4,82.5 177.0,82.5 177.0,80.5 177.8,81.1 177.7,77.5 177.8,78.2 177.9,75.3 178.9,77.9 178.5,77.4 179.3,77.8 179.2,80.1 180.2,80.1 179.9,80.8 180.3,83.6 180.6,80.9 181.6,79.4 181.3,78.3 181.7,78.8 182.7,76.7 182.4,77.7 183.0,75.4 183.0,74.1 184.1,72.8 183.9,75.0 185.1,76.4 185.3,77.4 185.9,76.1 186.6,77.9 187.8,76.4 188.2,79.4 189.1,79.4 189.8,77.0 190.2,76.8 191.4,74.9 191.7,74.6 191.5,75.0 192.5,72.7 193.4,74.2 194.7,72.9 194.7,73.4 195.8,74.6 196.7,73.6 197.2,76.0 197.2,75.4 197.7,76.3 198.1,76.4 198.4,79.9 198.9,79.9 199.8,81.2 199.6,81.6 200.5,81.0 200.9,79.3 201.4,76.8 201.6,76.3 202.2,74.6 202.4,74.3 203.1,73.4 203.5,74.1 204.1,71.2 205.1,73.4 205.8,73.3 206.2,74.1 207.5,72.2 208.1,72.7 209.3,72.4 209.6,70.1 210.3,68.6 211.1,67.6 212.2,67.6 212.2,66.4 213.6,67.4 214.0,68.8 215.1,71.2 215.2,71.0 216.4,71.2 217.0,72.9 217.1,74.1 217.7,70.9 218.2,72.3 218.5,70.3 218.8,70.6 219.4,67.6 219.6,67.2 220.8,67.5 220.6,67.4 221.1,65.5 222.1,65.4 223.0,63.9 224.0,66.7 225.0,65.8 225.3,67.7 226.6,66.6 227.2,68.6 227.2,65.8 227.9,66.6 227.9,63.7 228.5,64.2 228.8,62.7 229.5,62.2 229.8,63.5 231.3,63.0 231.8,62.5 232.7,64.3 233.4,65.9 233.8,66.6 234.3,63.2 235.0,65.1 235.8,64.4 235.9,63.5 236.4,60.1 237.1,61.4 237.6,60.0 238.1,58.3 238.9,58.9 239.4,58.4 239.4,60.1 240.5,62.3 240.5,61.6 241.3,62.2 242.1,65.2 242.4,64.9 243.6,66.1 244.1,65.3 244.2,64.8 245.3,61.5 245.8,61.8 245.5,59.8 247.0,61.2 247.3,60.1 248.4,62.1 248.6,62.3 248.9,61.4 249.3,62.9 250.2,63.5 250.1,64.1 250.5,65.0 251.1,66.9 251.4,67.7 252.0,70.2 252.5,71.0 252.8,68.5 253.2,67.4 253.1,66.2 253.9,68.1 253.9,65.2 254.2,64.2 254.7,63.4 254.5,63.9 255.2,60.2 255.9,61.7 255.9,60.5 256.9,58.8 256.9,57.6 257.4,58.6 257.9,60.4 257.6,59.5 258.5,61.9 258.5,62.5 258.5,64.3 259.0,63.5 258.9,63.5 259.9,66.7 259.4,66.1 260.1,67.6 260.3,69.7 261.0,67.8 262.2,67.3 262.4,65.6 263.1,65.9 264.4,64.3 264.9,64.3 265.8,65.7 267.0,63.4 267.7,65.3 268.3,65.4 269.0,64.4 269.8,65.8 270.6,63.2 271.2,62.6 272.6,63.4 273.6,63.6 274.1,63.0 274.5,62.5 275.7,59.7 276.9,61.3 277.5,58.4 278.9,60.1 279.5,60.5 279.9,57.1 281.0,57.0 282.5,58.9 282.8,57.2 283.4,57.8 284.4,58.1 284.7,57.3 285.2,54.5 285.3,53.1 286.4,54.6 286.6,51.1 286.8,50.3 287.6,51.4 288.1,50.0 289.3,47.7 290.0,49.7 291.0,48.2 292.2,48.2 292.4,46.9 293.6,47.6 294.1,45.8 293.9,43.7 294.7,44.6 294.9,44.1 296.3,42.4 296.1,42.5 297.2,41.3 297.9,40.7 298.4,40.7 299.3,39.7 299.3,36.8 299.4,35.7 300.3,36.4 300.5,35.6 301.1,34.2 300.9,33.6 301.4,32.3 301.9,32.3 302.9,29.6 303.7,28.1 304.1,29.3 303.8,28.4 304.6,28.0 305.0,25.5 305.7,23.5 306.0,22.7 306.1,21.9 307.2,22.1 307.6,20.6 308.1,21.0 307.9,19.6 308.9,17.8 309.3,17.1 309.5,18.3 310.5,17.9 310.3,17.5 311.0,19.1 311.0,20.4 311.2,21.6 311.6,19.9 312.2,20.9 312.4,21.6 313.0,22.4 313.0,20.1 313.1,19.9 313.0,20.3 313.0,18.3 313.3,18.5 314.7,15.3 315.2,16.5 316.4,17.1 317.0,17.4 317.5,14.1 318.8,13.3 318.9,13.8 319.6,13.5 320.8,15.3 321.3,15.4 322.0,15.9 322.4,16.2 322.9,15.9 323.0,14.2 323.7,13.0 323.4,13.6 324.6,13.8 325.0,13.2 325.1,16.0 326.1,17.2 325.8,17.3 326.8,16.0 327.2,14.5 328.2,14.9 328.5,14.7 329.1,16.9 329.6,15.9 330.2,17.5 330.7,20.3 330.3,20.0 331.4,20.3 331.4,21.0 331.3,21.6 331.8,22.7 332.8,23.5 333.6,23.1 333.6,23.1 334.4,21.0 335.2,20.5 335.3,19.5 335.9,19.9 336.4,19.1 336.9,15.3 338.0,15.1 338.6,14.1 339.4,14.9 339.7,14.9 340.5,13.2 340.7,10.2 340.6,10.7 341.9,9.4 342.4,8.8 343.2,12.1 344.3,12.3 344.3,11.0 344.9,14.0 345.2,15.2 345.8,15.9 346.4,15.1 347.3,16.2 347.4,16.1 348.0,19.9 347.8,20.0 348.4,19.0 349.1,21.5 350.1,23.4 350.9,22.5 351.4,20.6 352.4,21.4 352.9,22.1 353.2,20.6 353.5,21.5 354.4,24.5 354.3,24.5 355.1,25.6 355.4,26.4 355.6,25.6 356.7,27.0 357.6,27.8 358.3,28.6 358.3,30.0 359.5,30.0 360.7,30.1 361.5,32.5 362.2,31.1 363.6,31.0 363.8,28.9 364.3,29.9 364.7,31.8 365.3,31.7 365.7,34.6 365.7,33.1 366.1,34.6 367.0,36.7 366.9,35.9 367.3,36.5 368.7,38.9 368.8,39.5 369.4,39.8 370.4,39.3 371.6,41.8 372.3,40.5 373.3,41.8 374.1,41.2 374.9,41.8 374.8,43.9 375.3,43.7 376.4,47.4 376.6,45.9 377.4,46.7 377.5,49.1 378.0,48.3 378.0,50.4 379.3,52.5 378.9,52.1 379.7,52.0 380.3,53.9 380.8,54.2 381.5,56.6 381.9,55.0 382.7,55.5 383.8,57.9 384.5,59.4 384.8,59.1 386.2,57.9 386.3,58.5 387.2,61.5 387.6,62.2 388.2,63.0 388.7,64.7 389.5,62.4 389.8,65.4 391.4,65.5 391.7,66.6 393.1,64.6 393.8,66.7 394.3,65.1 395.6,68.1 397.2,66.6 398.1,68.4 398.9,68.1 399.2,69.3 399.4,70.0 399.0,70.8 399.5,71.2 399.6,72.7 400.1,72.8 400.0,74.6 400.5,75.3 400.9,75.5 401.1,76.8 401.7,79.1 402.1,79.4 401.9,81.6 402.6,80.8 402.7,81.8 403.5,84.1 403.7,84.7 403.8,84.7 404.3,85.2 404.8,87.5 405.6,86.7 405.6,89.4 406.5,89.9 406.9,90.8 407.1,89.7 407.6,90.5 408.7,92.9 408.9,95.2 409.5,93.8 409.2,94.4 409.8,97.4 409.7,97.2 409.6,98.5 410.2,100.8 410.5,101.7 410.3,101.3 410.3,104.0 410.3,102.4 410.6,105.8 411.4,104.9 411.6,107.7 411.5,106.4 412.1,107.9 411.7,110.6 412.3,109.9 412.7,110.5 412.5,111.9 413.1,111.6 413.3,115.0 413.6,115.7 414.1,115.1 413.8,117.6 414.6,117.3 414.4,120.1 415.4,119.1 415.3,121.1 415.3,120.4 415.6,123.3 416.1,123.8 415.9,123.9 416.3,125.5 416.5,128.0 416.5,129.3 416.8,129.8 417.0,129.9 417.3,129.2 417.9,132.6 417.6,133.5 418.0,135.2 417.7,134.2 418.1,136.0 418.8,137.6 418.8,137.2 419.2,137.3 418.8,140.3 419.2,142.1 419.1,141.3 419.3,140.9 419.4,142.1 419.8,144.2 420.1,144.7 420.5,146.4 420.9,146.3 420.6,148.3 420.7,150.5 420.7,151.5 421.0,150.8 421.4,152.5 421.2,152.0 422.0,153.9 421.4,155.8 422.0,155.7 421.9,158.3 422.1,158.0 422.9,158.8 422.5,159.1 423.0,161.7 423.1,161.8 423.2,164.0 423.7,165.1 424.0,165.7 424.0,165.0 425.2,167.4 425.2,167.8 425.4,167.8 425.4,170.2 426.2,169.9 426.5,170.4 426.7,171.5 427.0,172.9 427.3,173.3 427.5,175.8 427.5,175.7 428.4,177.5 428.6,179.2 428.9,178.3 428.9,181.3 429.1,182.0 429.1,182.0 429.8,184.2 429.6,182.9 429.7,183.7 430.1,187.7 430.1,186.4 430.3,187.1 430.4,189.2 429.8,191.4 430.3,192.2 430.6,192.2 430.9,192.1 431.1,193.6 430.3,194.6 430.5,194.7 431.1,195.9 430.8,197.4 431.0,200.4 431.7,201.2 431.9,200.9 431.8,201.3 432.1,204.0 432.0,203.2 431.5,206.4 432.3,206.3 433.2,205.6 433.7,207.4 434.3,208.2 434.0,210.7 434.2,211.0 434.9,210.4 434.9,211.9 434.6,212.3 435.4,213.8 435.1,215.2 434.8,217.0 435.7,218.4 435.5,217.2 435.7,219.9 436.2,219.8 436.2,220.0 436.8,222.0 436.6,224.0 436.4,224.8 436.8,226.0 436.7,225.3 437.4,226.9 437.3,228.2 437.4,228.8 437.3,230.9 437.8,232.0 438.2,231.4 438.5,228.9 438.9,228.5 439.2,229.1 439.2,228.2 439.2,226.8 439.9,224.2 439.3,224.0 440.0,222.2 439.9,223.5 440.3,220.2 440.3,220.6 440.5,219.3 441.1,218.2 441.3,218.5 441.2,217.9 441.7,214.1 442.6,214.8 442.7,212.8 443.3,212.1 443.6,210.9 443.8,212.6 443.9,213.0 443.8,214.5 444.7,213.9 444.9,216.7 444.7,218.0 445.8,216.5 445.5,217.5 445.6,218.5 446.0,220.0 445.9,221.7 446.1,223.7 446.5,222.6 446.2,223.2 446.4,224.5 446.9,227.7 447.3,226.8 446.5,229.6 446.9,231.1 447.0,230.2 446.8,233.2 447.5,231.7 448.0,231.9 448.8,230.1 448.7,229.0 449.9,228.1 450.2,227.8 450.5,227.0 450.8,226.1 452.0,223.7 452.1,225.4 453.2,221.8 453.4,223.0 454.1,221.6 453.9,220.2 454.9,220.6 454.8,219.5 455.7,218.6 455.5,217.0 456.3,216.6 456.6,214.2 457.3,213.7 457.7,212.8 457.8,213.5 457.7,212.3 457.9,212.0 458.2,210.4 458.9,207.7 459.2,207.8 459.6,205.7 460.7,206.3 462.1,206.5 462.6,206.0 463.5,205.4 463.5,206.1 463.5,204.9 463.8,201.9 463.8,202.0 465.0,200.3 464.9,201.1 465.0,198.2 465.6,198.2 466.3,198.7 465.7,196.6 466.0,194.0 466.2,195.8 466.2,193.7 466.7,191.1 467.1,190.2 466.6,191.2 466.5,189.1 466.7,188.4 466.7,186.4 467.1,185.9 467.3,187.2 468.0,188.0 468.6,189.9 468.3,190.3 469.2,190.6 469.4,191.7 469.8,193.7 469.7,195.4 469.3,191.9 470.0,192.6 470.1,190.6 470.0,189.3 470.0,188.6 470.2,187.7 470.0,187.8 469.9,187.3 470.4,184.6 470.6,186.4 471.4,187.9 471.8,187.8 472.8,188.2 473.4,191.1 473.9,192.1 473.7,192.6 474.5,191.5 475.4,193.8 475.7,194.4 475.5,196.2 476.0,195.2 476.8,194.5 476.8,195.2 476.7,194.1 476.9,192.5 477.6,192.2 477.2,189.6 478.3,189.3 478.0,188.3 478.7,190.0 479.1,189.8 479.4,191.1 479.4,192.5 480.3,190.9 480.5,189.0 480.5,187.3 480.6,187.8 481.0,187.2 481.1,184.4 481.2,184.1 480.9,182.7 481.5,183.3 481.8,181.7 481.4,179.1 482.0,178.3 482.0,177.0 482.1,178.0 482.4,177.5 483.1,176.7 483.8,174.1 484.6,172.6 485.4,173.1 485.7,173.9 486.7,170.4 488.0,170.5 488.0,169.1 488.5,170.5 489.2,168.9 489.2,167.3 490.2,166.6 490.5,167.3 490.0,166.2 490.2,164.8 491.2,163.8 491.3,163.2 491.5,161.5 492.2,160.3 492.7,160.4 493.6,159.9 494.3,158.5 495.1,158.3 495.4,156.0 496.5,155.4 496.4,154.6 497.7,155.8 498.3,154.4 499.6,155.1 500.0,154.3 501.1,153.3 501.3,153.7 502.8,152.0 503.5,153.4 503.6,150.2 504.5,150.0 505.6,151.4 505.7,149.9 506.5,147.1 507.6,146.6 507.7,147.0 508.5,146.7 509.8,147.7 510.7,146.9 511.9,145.7 512.3,144.3 513.4,144.2 514.5,144.1 515.0,144.2 516.3,143.7 516.3,143.8 516.6,144.8 517.6,147.0 518.6,146.7 519.5,144.7 519.9,142.2 520.4,142.3 521.4,141.0 522.1,142.1 522.9,142.7 523.4,144.3 524.9,144.4 525.1,144.2 526.7,145.0 527.5,141.5 528.5,143.2 528.7,144.6 530.1,145.1 530.4,144.6 531.2,143.9 532.2,144.1 532.4,143.1 533.5,142.3 534.1,141.5 534.7,140.0 534.8,142.5 535.7,144.6 536.0,143.9 536.5,145.0 537.1,147.2 537.3,146.4 538.3,146.8 539.2,147.4 540.0,148.4 540.4,148.4" fill="none" stroke="#ff0000" stroke-width="2.9" stroke-linejoin="round" stroke-linecap="round"/>
<g clip-path="url(#clipB)">
<polyline points="138.5,678.2 140.4,677.7 142.4,677.3 144.4,677.3 146.4,677.4 148.2,676.7 150.0,675.8 151.8,675.2 153.7,675.8 155.6,676.4 157.5,676.0 159.3,675.1 161.1,674.3 163.0,674.7 165.0,675.0 166.9,674.6 168.8,673.9 170.7,673.5 172.7,673.5 174.7,673.5 176.7,673.2 178.7,672.9 180.5,672.0 182.2,671.0 183.9,670.0 185.9,669.6 187.8,669.3 189.6,670.0 191.1,671.2 192.6,670.4 194.1,669.0 195.7,667.9 197.5,667.1 199.3,666.3 200.7,667.7 202.1,669.0 203.7,668.1 205.2,666.8 206.8,665.5 208.6,666.0 210.5,666.6 212.0,666.1 213.2,664.4 214.3,662.8 215.7,663.1 217.4,664.3 218.7,663.4 220.0,661.9 221.3,660.4 222.7,659.4 224.5,660.3 225.7,659.9 226.4,658.0 227.0,656.1 227.6,654.2 228.6,654.9 229.7,656.6 230.9,658.2 232.3,659.6 233.7,661.0 234.9,661.4 235.5,659.5 236.1,657.6 236.7,655.7 237.3,653.8 237.9,651.8 238.8,651.7 240.1,653.2 241.4,654.7 242.4,656.5 243.3,658.3 244.2,660.0 245.1,661.8 245.5,660.2 245.9,658.3 246.3,656.3 246.7,654.3 247.0,652.4 247.6,651.3 249.0,652.7 250.5,654.0 252.2,655.1 253.8,656.3 255.3,657.6 256.7,659.0 258.1,660.4 259.8,661.6 261.4,662.7" fill="none" stroke="#ff8418" stroke-width="6.0" stroke-linejoin="round" stroke-linecap="round" opacity="0.55"/>
<polyline points="261.4,662.7 263.1,663.8 264.9,664.6 266.7,665.5 268.5,666.4 270.3,667.3 272.0,668.3 273.7,669.4 275.3,670.6 277.0,671.7 278.6,672.8 280.3,673.9 282.0,675.0 283.6,676.2 285.0,677.6 286.4,679.0 288.0,680.2 290.0,680.5 291.9,680.7 293.1,679.1 294.4,677.6 295.0,675.7 295.6,673.8 296.2,671.9 296.7,669.9 297.0,668.0 297.3,666.0 297.7,664.0 298.0,662.0" fill="none" stroke="#ff8418" stroke-width="5.2" stroke-linejoin="round" stroke-linecap="round" opacity="0.55"/>
<polyline points="298.0,662.0 298.3,660.1 298.7,658.1 299.2,656.2 299.8,654.3 300.4,652.3 301.2,651.2 302.8,652.5 304.3,653.7 304.7,651.7 305.1,649.8 305.5,647.8 305.9,645.8 306.3,643.9 306.7,641.9 307.1,640.0 307.9,638.1 308.8,636.3 309.4,634.4 309.9,632.5 310.4,630.6 310.9,628.6 311.3,626.7 311.8,624.8 312.5,622.9 313.3,621.0 314.0,619.2 314.7,617.3 315.3,615.4 315.8,613.5 316.4,611.5 317.0,609.6 317.5,607.7 318.1,605.8 318.6,606.2 319.1,608.1 319.5,610.0 320.0,612.0 320.5,613.9 321.1,615.6 322.7,614.5 324.4,613.3 326.0,612.2 327.0,610.5 327.9,608.7 328.8,607.0 329.1,605.0 329.4,603.0 329.6,601.0 329.9,599.0 330.1,597.1 330.4,595.1 330.7,593.1 330.9,591.1 331.2,589.1 331.5,587.1 331.8,585.2 332.1,583.2 332.4,581.2 332.7,579.2 333.0,577.3 333.3,575.3 333.6,573.3 334.0,571.3 334.4,569.4 334.7,567.4 335.1,565.4 335.5,563.5 335.9,561.5 336.8,559.8 337.9,558.2 339.4,557.8 341.1,558.9 341.5,557.3 341.7,555.3 341.9,553.3 342.1,551.3 342.3,549.3 342.5,547.3 342.7,545.4 342.9,543.4 343.1,541.4 344.5,539.9 345.9,538.5 347.5,538.0 349.5,538.5 350.6,537.4 351.3,535.6 351.9,533.7 352.1,531.7 352.2,529.7 352.3,527.7 352.4,525.7 352.5,523.7 352.6,521.7 352.8,519.7 354.1,518.5 355.9,517.6 357.6,516.5 359.2,515.3 360.4,513.8 361.3,512.0 362.2,510.2 363.0,508.4 364.0,506.6 364.9,504.9 365.8,503.1 366.8,501.4 368.0,499.8 369.4,498.5 371.2,497.6 373.1,496.8 374.6,495.8 374.9,493.9 375.2,491.9 375.4,489.9 375.7,487.9 375.9,485.9 376.2,484.0 377.6,485.5 378.9,486.2 380.1,484.6 381.3,483.0 382.4,481.3 383.1,479.5 383.8,477.6 384.5,475.7 385.2,473.9 385.9,472.0 386.4,470.0 386.9,468.1 387.3,466.2 388.6,464.8 390.3,463.7 391.8,462.5 392.7,460.7 393.6,458.9 394.6,457.1 395.0,455.2 395.5,453.2 395.9,451.3 396.3,449.3 397.5,448.0 399.4,447.3 401.0,446.1 402.7,445.7 404.5,446.6 406.2,447.6 407.8,448.9 409.3,450.2 410.1,452.0 410.9,453.9 411.6,455.7 412.2,457.6 412.8,459.5 414.0,461.1 415.3,462.7 416.5,464.2 417.9,465.7 419.2,467.1 419.5,469.1 419.8,471.1 420.1,473.1 420.4,475.1 420.9,477.0 421.5,478.9 422.2,480.7 423.0,482.6 423.9,484.4 424.8,486.2 425.5,488.0 425.7,490.0 426.0,492.0 426.2,494.0 426.5,496.0 426.7,497.9 427.0,499.9 427.4,501.9 427.7,503.9 428.0,505.8 428.4,507.8 429.4,509.4 430.8,510.8 432.2,512.2 433.6,513.7 434.8,515.3 435.6,517.1 436.1,519.0 436.6,521.0 437.1,522.9 437.6,524.9 438.1,526.8 438.6,528.7 439.4,530.6 440.1,532.4 440.9,534.3 441.6,536.1 442.5,538.0 443.5,539.7 444.5,541.4 445.5,543.1 446.6,544.8 448.1,546.0 449.9,546.9 451.0,548.5" fill="none" stroke="#ff8418" stroke-width="4.6" stroke-linejoin="round" stroke-linecap="round" opacity="0.55"/>
<polyline points="451.0,548.5 452.2,550.2 453.3,551.8 454.5,553.4 455.8,554.9 457.1,556.5 458.7,556.7 460.6,555.9 462.3,555.9 463.7,557.3 465.1,558.7 466.3,560.2 467.0,562.1 467.7,564.0 468.4,565.8 469.9,567.0 471.7,567.9 473.4,568.8 475.0,570.0 476.6,571.3 478.1,572.5 479.7,572.5 481.4,571.4 483.1,570.3 484.9,569.4 486.8,568.8 488.7,568.2 490.6,567.8 492.6,567.4 494.5,566.9 496.1,565.8 497.8,564.7 499.5,563.6 501.3,562.7 503.1,561.8 504.9,561.2 506.9,560.9 508.9,560.5 510.7,559.7 512.5,558.8 514.3,557.9 516.1,557.0 517.9,556.2 519.6,555.2 521.0,553.8 522.4,552.4 524.1,551.3 525.9,550.4 526.1,550.3" fill="none" stroke="#ff8418" stroke-width="4.2" stroke-linejoin="round" stroke-linecap="round" opacity="0.55"/>
<polyline points="138.5,678.2 140.4,677.7 142.4,677.3 144.4,677.3 146.4,677.4 148.2,676.7 150.0,675.8 151.8,675.2 153.7,675.8 155.6,676.4 157.5,676.0 159.3,675.1 161.1,674.3 163.0,674.7 165.0,675.0 166.9,674.6 168.8,673.9 170.7,673.5 172.7,673.5 174.7,673.5 176.7,673.2 178.7,672.9 180.5,672.0 182.2,671.0 183.9,670.0 185.9,669.6 187.8,669.3 189.6,670.0 191.1,671.2 192.6,670.4 194.1,669.0 195.7,667.9 197.5,667.1 199.3,666.3 200.7,667.7 202.1,669.0 203.7,668.1 205.2,666.8 206.8,665.5 208.6,666.0 210.5,666.6 212.0,666.1 213.2,664.4 214.3,662.8 215.7,663.1 217.4,664.3 218.7,663.4 220.0,661.9 221.3,660.4 222.7,659.4 224.5,660.3 225.7,659.9 226.4,658.0 227.0,656.1 227.6,654.2 228.6,654.9 229.7,656.6 230.9,658.2 232.3,659.6 233.7,661.0 234.9,661.4 235.5,659.5 236.1,657.6 236.7,655.7 237.3,653.8 237.9,651.8 238.8,651.7 240.1,653.2 241.4,654.7 242.4,656.5 243.3,658.3 244.2,660.0 245.1,661.8 245.5,660.2 245.9,658.3 246.3,656.3 246.7,654.3 247.0,652.4 247.6,651.3 249.0,652.7 250.5,654.0 252.2,655.1 253.8,656.3 255.3,657.6 256.7,659.0 258.1,660.4 259.8,661.6 261.4,662.7" fill="none" stroke="#f9d6b0" stroke-width="4.0" stroke-linejoin="round" stroke-linecap="round"/>
<polyline points="261.4,662.7 263.1,663.8 264.9,664.6 266.7,665.5 268.5,666.4 270.3,667.3 272.0,668.3 273.7,669.4 275.3,670.6 277.0,671.7 278.6,672.8 280.3,673.9 282.0,675.0 283.6,676.2 285.0,677.6 286.4,679.0 288.0,680.2 290.0,680.5 291.9,680.7 293.1,679.1 294.4,677.6 295.0,675.7 295.6,673.8 296.2,671.9 296.7,669.9 297.0,668.0 297.3,666.0 297.7,664.0 298.0,662.0" fill="none" stroke="#f9d6b0" stroke-width="3.2" stroke-linejoin="round" stroke-linecap="round"/>
<polyline points="298.0,662.0 298.3,660.1 298.7,658.1 299.2,656.2 299.8,654.3 300.4,652.3 301.2,651.2 302.8,652.5 304.3,653.7 304.7,651.7 305.1,649.8 305.5,647.8 305.9,645.8 306.3,643.9 306.7,641.9 307.1,640.0 307.9,638.1 308.8,636.3 309.4,634.4 309.9,632.5 310.4,630.6 310.9,628.6 311.3,626.7 311.8,624.8 312.5,622.9 313.3,621.0 314.0,619.2 314.7,617.3 315.3,615.4 315.8,613.5 316.4,611.5 317.0,609.6 317.5,607.7 318.1,605.8 318.6,606.2 319.1,608.1 319.5,610.0 320.0,612.0 320.5,613.9 321.1,615.6 322.7,614.5 324.4,613.3 326.0,612.2 327.0,610.5 327.9,608.7 328.8,607.0 329.1,605.0 329.4,603.0 329.6,601.0 329.9,599.0 330.1,597.1 330.4,595.1 330.7,593.1 330.9,591.1 331.2,589.1 331.5,587.1 331.8,585.2 332.1,583.2 332.4,581.2 332.7,579.2 333.0,577.3 333.3,575.3 333.6,573.3 334.0,571.3 334.4,569.4 334.7,567.4 335.1,565.4 335.5,563.5 335.9,561.5 336.8,559.8 337.9,558.2 339.4,557.8 341.1,558.9 341.5,557.3 341.7,555.3 341.9,553.3 342.1,551.3 342.3,549.3 342.5,547.3 342.7,545.4 342.9,543.4 343.1,541.4 344.5,539.9 345.9,538.5 347.5,538.0 349.5,538.5 350.6,537.4 351.3,535.6 351.9,533.7 352.1,531.7 352.2,529.7 352.3,527.7 352.4,525.7 352.5,523.7 352.6,521.7 352.8,519.7 354.1,518.5 355.9,517.6 357.6,516.5 359.2,515.3 360.4,513.8 361.3,512.0 362.2,510.2 363.0,508.4 364.0,506.6 364.9,504.9 365.8,503.1 366.8,501.4 368.0,499.8 369.4,498.5 371.2,497.6 373.1,496.8 374.6,495.8 374.9,493.9 375.2,491.9 375.4,489.9 375.7,487.9 375.9,485.9 376.2,484.0 377.6,485.5 378.9,486.2 380.1,484.6 381.3,483.0 382.4,481.3 383.1,479.5 383.8,477.6 384.5,475.7 385.2,473.9 385.9,472.0 386.4,470.0 386.9,468.1 387.3,466.2 388.6,464.8 390.3,463.7 391.8,462.5 392.7,460.7 393.6,458.9 394.6,457.1 395.0,455.2 395.5,453.2 395.9,451.3 396.3,449.3 397.5,448.0 399.4,447.3 401.0,446.1 402.7,445.7 404.5,446.6 406.2,447.6 407.8,448.9 409.3,450.2 410.1,452.0 410.9,453.9 411.6,455.7 412.2,457.6 412.8,459.5 414.0,461.1 415.3,462.7 416.5,464.2 417.9,465.7 419.2,467.1 419.5,469.1 419.8,471.1 420.1,473.1 420.4,475.1 420.9,477.0 421.5,478.9 422.2,480.7 423.0,482.6 423.9,484.4 424.8,486.2 425.5,488.0 425.7,490.0 426.0,492.0 426.2,494.0 426.5,496.0 426.7,497.9 427.0,499.9 427.4,501.9 427.7,503.9 428.0,505.8 428.4,507.8 429.4,509.4 430.8,510.8 432.2,512.2 433.6,513.7 434.8,515.3 435.6,517.1 436.1,519.0 436.6,521.0 437.1,522.9 437.6,524.9 438.1,526.8 438.6,528.7 439.4,530.6 440.1,532.4 440.9,534.3 441.6,536.1 442.5,538.0 443.5,539.7 444.5,541.4 445.5,543.1 446.6,544.8 448.1,546.0 449.9,546.9 451.0,548.5" fill="none" stroke="#f9d6b0" stroke-width="2.6" stroke-linejoin="round" stroke-linecap="round"/>
<polyline points="451.0,548.5 452.2,550.2 453.3,551.8 454.5,553.4 455.8,554.9 457.1,556.5 458.7,556.7 460.6,555.9 462.3,555.9 463.7,557.3 465.1,558.7 466.3,560.2 467.0,562.1 467.7,564.0 468.4,565.8 469.9,567.0 471.7,567.9 473.4,568.8 475.0,570.0 476.6,571.3 478.1,572.5 479.7,572.5 481.4,571.4 483.1,570.3 484.9,569.4 486.8,568.8 488.7,568.2 490.6,567.8 492.6,567.4 494.5,566.9 496.1,565.8 497.8,564.7 499.5,563.6 501.3,562.7 503.1,561.8 504.9,561.2 506.9,560.9 508.9,560.5 510.7,559.7 512.5,558.8 514.3,557.9 516.1,557.0 517.9,556.2 519.6,555.2 521.0,553.8 522.4,552.4 524.1,551.3 525.9,550.4 526.1,550.3" fill="none" stroke="#f9d6b0" stroke-width="2.2" stroke-linejoin="round" stroke-linecap="round"/>
<polyline points="138.7,681.2 139.8,674.0 141.8,681.0 143.2,673.6 144.8,680.6 146.2,673.7 148.4,681.2 148.8,672.2 151.1,679.8 152.3,672.3 153.4,679.3 155.4,673.0 157.0,679.6 157.6,671.6 160.0,677.8 161.0,670.7 162.4,678.6 164.4,670.6 165.9,677.6 167.0,671.3 169.1,677.4 170.2,669.2 171.9,676.4 173.5,669.4 175.2,676.8 176.5,669.6 178.6,677.2 179.4,669.7 181.7,674.8 182.1,667.9 184.2,672.8 185.3,666.5 187.2,673.3 188.9,665.6 189.3,673.1 191.4,667.2 193.0,674.2 192.8,666.8 195.4,672.5 195.5,663.7 197.9,670.0 198.9,662.0 199.3,671.1 201.9,665.2 202.5,671.7 202.8,664.0 205.7,671.1 205.7,663.3 207.5,669.6 209.4,662.1 210.4,670.3 211.1,662.4 213.9,669.3 212.7,660.7 214.8,666.5 216.5,659.0 216.7,667.3 217.6,660.2 220.2,666.5 219.2,657.6 222.2,663.9 222.2,656.1 223.4,663.0 225.0,657.1 226.8,662.2 225.0,654.1 228.3,660.4 226.4,652.0 227.7,657.8 229.9,651.6 228.9,659.3 231.6,654.0 230.9,662.9 233.6,657.1 233.6,664.1 234.2,658.3 236.7,663.6 234.7,655.1 237.7,660.6 235.8,652.5 238.3,656.4 236.7,649.2 238.3,655.2 240.1,649.5 239.7,656.2 242.5,650.9 241.4,658.8 244.1,653.9 242.8,661.6 245.3,657.5 244.9,665.6 244.0,656.7 247.0,662.2 244.8,654.3 247.3,658.4 245.5,651.3 248.1,655.6 246.5,647.2 247.4,655.7 250.2,649.1 249.8,657.6 252.5,651.1 252.7,658.6 255.1,653.5 254.9,661.0 257.4,656.0 257.0,664.0 259.6,658.2 260.0,664.5 262.2,660.5 262.6,666.9 264.9,661.6 265.6,667.8 267.8,663.3 268.4,669.8 270.8,664.0 271.2,670.7 273.5,666.2 273.8,673.1 276.1,668.4 276.6,674.0 278.7,670.4 279.2,676.2 281.5,671.3 281.9,677.5 284.1,673.6 284.0,680.6 286.5,675.8 286.6,682.1 288.7,677.1 289.8,683.7 291.3,678.2 293.2,681.9 292.9,675.7 295.5,680.1 293.9,672.6 296.5,676.9 295.1,670.3 297.4,673.7 295.9,667.3 298.0,670.4 296.3,663.9 298.7,667.8 296.6,660.2 299.0,664.0 297.6,658.1 299.5,660.9 298.4,655.3 300.3,657.8 299.1,651.8 301.2,654.7 300.8,649.0 301.6,654.5 303.6,651.4 304.9,655.7 303.8,649.5 305.7,652.0 304.5,646.3 306.3,648.7 305.1,643.3 307.0,645.8 305.9,640.5 307.5,642.4 306.6,637.0 308.8,640.0 308.2,634.8 310.2,637.3 309.1,631.6 310.8,633.6 309.8,628.3 311.6,630.7 310.4,624.8 312.5,627.9 311.4,621.9 313.3,624.3 312.7,619.4 314.4,621.1 313.7,616.1 315.7,618.6 314.7,613.1 316.7,615.9 315.6,610.1 317.4,612.2 316.5,607.0 318.2,608.9 317.3,603.4 317.8,607.8 319.6,605.3 318.5,610.8 320.3,608.7 319.3,613.8 321.1,611.6 320.2,617.1 321.4,612.6 323.4,616.4 324.0,611.6 326.0,614.0 326.2,609.6 328.0,611.6 327.4,606.1 329.7,609.3 328.4,603.7 330.2,606.0 328.7,600.3 330.5,602.6 329.1,597.1 330.7,598.9 329.7,594.3 331.3,596.4 329.9,590.6 331.7,592.9 330.2,587.2 332.3,590.2 330.9,584.6 332.5,586.3 331.3,581.2 333.2,583.7 331.9,578.4 333.4,579.9 332.3,574.9 333.8,576.8 332.7,571.5 334.6,574.2 333.5,568.8 335.2,570.9 334.1,565.7 335.7,567.5 334.7,562.6 336.5,564.9 335.3,559.2 337.4,562.0 337.2,556.6 338.8,559.8 340.4,556.1 341.7,561.1 340.7,555.5 342.4,557.7 341.1,552.5 342.9,554.9 341.3,548.8 343.1,551.3 341.6,545.7 343.2,547.7 342.0,542.8 343.6,544.6 342.3,539.1 344.5,541.8 344.9,537.1 346.7,540.4 348.1,535.8 349.6,540.8 350.0,536.0 351.6,538.0 350.9,532.7 352.7,535.0 351.2,529.6 352.9,531.9 351.3,526.3 353.2,528.9 351.5,523.1 353.5,526.1 351.9,520.3 353.7,522.9 352.7,517.5 354.8,520.8 355.7,516.0 357.6,518.8 358.2,513.9 360.4,517.1 360.0,511.6 361.8,513.7 361.2,508.3 363.3,511.2 362.7,505.5 364.8,508.3 364.4,503.3 366.3,505.7 365.9,500.3 367.8,502.7 367.9,497.9 369.7,500.3 370.6,495.5 372.6,499.4 373.4,494.3 375.4,497.4 374.0,491.7 376.0,494.4 374.7,489.0 376.3,491.1 374.9,485.5 376.8,488.1 375.8,482.6 376.7,486.8 378.4,484.2 379.5,487.5 379.6,482.7 381.7,485.6 381.4,480.0 383.3,482.2 382.5,476.9 384.4,479.2 383.6,473.9 385.5,476.2 385.0,471.5 386.7,473.3 385.7,468.1 387.4,470.2 386.3,464.6 388.3,467.9 388.7,462.8 390.7,466.0 391.0,460.6 393.0,463.4 392.5,458.2 394.6,461.0 393.7,454.7 395.5,457.1 394.6,452.2 396.3,454.2 395.3,449.3 396.9,451.2 396.7,445.8 398.9,449.1 399.6,444.4 401.6,447.7 402.8,444.2 403.8,448.9 405.9,445.3 406.5,449.9 408.4,447.5 408.8,452.1 410.5,450.0 410.0,454.8 411.8,452.9 411.0,458.1 412.9,455.7 412.1,460.9 414.0,458.5 413.9,464.0 416.1,460.7 416.1,466.1 418.2,462.9 418.1,468.8 420.1,465.9 418.8,471.4 420.5,469.3 419.4,474.3 421.2,472.0 419.7,477.9 421.5,475.8 420.7,481.2 422.9,478.0 422.2,483.4 424.1,481.1 423.5,486.4 425.4,484.2 424.6,489.9 426.3,487.4 425.0,492.7 426.9,490.3 425.6,495.6 427.3,493.5 425.9,499.0 427.8,496.3 426.4,502.0 428.2,499.8 427.0,505.0 428.6,503.3 427.6,508.2 429.0,506.6 428.9,511.5 430.9,508.9 431.1,514.0 433.2,511.2 433.2,516.2 435.5,513.0 435.0,518.3 436.6,516.6 435.5,522.0 437.4,519.5 436.2,525.3 438.2,522.7 437.2,527.9 439.2,525.2 438.1,530.9 440.2,528.2 439.2,534.4 441.2,531.9 440.5,537.0 442.6,534.1 441.9,539.6 444.0,537.0 443.4,543.0 445.6,539.8 445.1,545.5 447.0,543.2 447.3,548.3 449.4,544.9 449.9,549.5 451.8,547.0 451.7,551.7 453.6,549.6 453.6,554.4 455.5,552.1 455.7,556.5 457.5,554.4 458.4,558.5 459.6,554.2 461.3,557.3 462.9,554.1 463.3,558.8 465.2,556.6 465.6,560.8 467.2,559.3 466.7,563.8 468.4,562.0 467.7,567.3 469.5,565.0 470.3,569.5 472.3,565.9 473.1,570.9 475.0,568.4 475.6,572.7 477.6,569.9 478.3,574.6 479.6,571.2 481.4,573.7 482.1,569.0 484.0,571.7 485.0,567.3 486.9,570.4 488.2,567.0 490.0,570.1 491.3,566.1 493.1,568.7 494.3,565.5 496.2,568.2 496.8,563.2 498.7,565.7 499.6,562.0 501.6,564.8 502.5,560.1 504.3,563.1 505.7,559.6 507.4,562.5 508.7,558.4 510.5,561.2 511.5,557.5 513.4,559.8 514.3,555.6 516.2,558.4 517.2,554.2 519.3,557.7 519.7,552.7 521.6,554.8 522.0,550.5 524.0,553.2 524.9,549.0 526.3,551.7" fill="none" stroke="#ff8418" stroke-width="1.0" stroke-linejoin="round"/>
<polyline points="135.9,600.9 136.5,599.0 137.0,597.1 137.7,595.2 138.9,593.6 140.2,592.0 141.2,590.3 142.2,589.6 143.3,591.3 144.5,592.8 145.9,594.2 147.3,595.3 147.9,593.4 148.6,591.5 149.3,589.7 150.1,588.2 151.3,589.7 152.6,591.2 153.8,589.6 155.0,587.9 156.4,586.5 158.1,585.5 159.7,585.4 161.1,586.8 162.0,585.3 162.8,583.5 163.7,581.6 164.6,579.9 166.3,581.0 167.7,580.7 168.7,579.0 169.8,577.3 171.1,578.6 172.4,580.2 173.5,580.2 174.5,578.5 175.5,577.6 176.6,579.3 177.6,580.0 178.3,578.1 179.0,576.2 179.7,574.3 180.4,572.5 181.3,572.9 182.4,574.5 183.3,576.3 184.0,578.2 184.7,580.1 185.4,579.0 186.0,577.1 186.7,575.3 187.7,573.6 189.3,572.5 191.1,572.1 192.9,572.7 194.7,572.1 196.4,571.1 197.2,569.4 197.8,567.4 198.3,565.5 199.3,563.8 200.7,562.4 201.5,563.3 202.2,565.2 202.8,567.1 203.4,569.1 204.0,567.9 204.6,566.0 205.3,564.1 205.9,562.2 206.5,560.3 207.2,558.4 208.8,557.2 210.1,555.7 210.9,553.9 211.7,552.1 212.5,550.3 212.9,551.1 212.9,553.1 213.0,555.1 213.1,557.1 213.2,559.1 213.3,561.1 213.3,563.1 213.6,564.0 214.2,562.1 214.8,560.2 215.4,558.3 216.5,556.8 218.4,556.0 220.2,555.3 222.0,554.5 222.4,552.5 222.8,550.6 223.2,548.6 223.7,546.7 224.1,547.3 224.6,549.2 225.0,551.2 225.5,553.1 226.0,555.1 226.7,556.2 228.4,555.2 229.7,553.8 230.5,551.9 231.3,550.1 232.1,548.2 233.3,546.8 234.9,546.2 235.3,548.1 235.6,550.1 236.0,552.1 236.3,554.1 236.7,556.0 237.0,558.0 237.4,560.0 237.9,558.5 238.6,556.6 239.2,554.7 239.7,552.8 240.3,550.9 240.8,548.9 241.4,547.0 241.9,545.1 242.5,543.2 243.0,542.2 243.2,544.1 243.4,546.1 243.7,548.1 243.9,550.1 244.2,552.1 244.4,554.1 244.7,556.0 245.3,556.3 246.3,554.6 247.4,552.9 248.7,553.0 250.1,554.4 251.5,555.8 252.8,554.3 254.1,552.7 255.5,551.2 256.9,549.8 258.3,548.4 259.8,547.1 261.4,545.9 263.0,544.8 264.6,543.5 266.1,542.2 267.7,541.0 269.2,539.9 269.9,538.0 270.6,536.1" fill="none" stroke="#1414f0" stroke-width="4.2" stroke-linejoin="round" stroke-linecap="round" opacity="0.85"/>
<polyline points="270.6,536.1 271.3,534.2 272.0,532.4 272.6,530.5 273.7,529.2 275.7,529.2 277.2,528.4 277.8,526.5 278.4,524.6 279.1,522.7 279.7,520.8 280.5,519.0 281.4,517.2 282.3,515.4 283.2,513.6 284.0,511.8 284.6,509.9 285.2,508.0 285.7,506.1 286.4,504.2 287.1,502.3 287.8,500.4 288.5,498.5 288.7,496.6 289.0,494.6 289.2,492.6 289.5,490.6 289.7,488.6 289.9,486.6 290.4,484.7 290.9,482.7 291.3,480.8 291.8,478.9 292.3,476.9 292.7,475.0 293.2,473.0 293.6,471.1 294.1,469.1 294.5,467.2 294.9,465.2 295.4,463.3 295.7,464.9 296.0,466.9 296.4,468.9 296.7,470.8 297.0,472.8 297.3,474.8 297.7,476.8 298.0,475.1 298.3,473.1 298.6,471.1 298.9,469.1 299.2,467.2 299.5,465.2 299.7,463.2 300.1,461.2 300.7,459.3 301.4,457.4 302.0,455.5 302.6,453.7 303.3,451.8 303.9,451.1 304.6,453.0 305.2,454.9 305.8,456.8 306.5,458.7 306.8,456.9 307.1,454.9 307.4,453.0 307.8,451.0 308.1,449.0 308.4,447.0 308.7,445.1 309.1,443.1 310.3,441.9 312.2,441.4 313.6,442.3 314.6,444.0 315.4,445.8 315.7,447.8 316.0,449.7 316.3,451.7 316.7,453.7 317.0,455.7 317.3,457.6 317.7,459.6 318.0,461.4 318.5,459.5 318.9,457.5 319.4,455.6 319.8,453.6 320.3,451.7 320.7,449.7 321.2,447.8 321.6,445.8 322.1,443.9 322.6,442.0 323.0,440.0 323.5,438.1 324.0,436.1 324.4,434.2 324.8,432.2 325.1,430.2 325.4,428.3 325.7,426.3 326.1,424.3 326.6,422.5 328.0,421.1 328.6,422.6 329.1,424.6 329.5,426.5 329.8,424.5 330.1,422.5 330.4,420.5 330.7,421.4 331.0,423.4 331.2,425.4 332.0,427.1 333.3,428.6 333.6,430.6 333.9,432.6 334.2,434.6 334.5,436.6 334.8,438.5 335.2,440.1 335.9,438.2 336.6,436.4 337.3,434.5 338.2,432.9 339.4,433.9 339.7,435.8 340.1,437.8 340.5,439.8 340.8,441.7 341.2,443.7 341.4,445.7 341.6,447.7 341.8,449.7 342.2,451.6 343.8,452.8 345.6,453.2 347.3,452.7 348.0,450.8 348.7,449.0 349.5,447.1 350.2,445.2 350.5,446.5 350.7,448.5 350.9,450.5 351.1,452.5 351.3,454.5 351.5,456.5 351.7,458.5 352.7,460.1 353.9,461.7 355.2,463.3 356.4,464.8 357.7,466.4 359.0,467.9 360.3,469.4 361.2,471.2 361.9,473.0 362.6,474.9 363.3,476.8 363.9,478.7 364.4,480.6 365.0,482.5 365.6,484.5 366.0,486.4 366.5,488.4 367.1,489.7 368.3,488.1 369.3,487.3 369.6,489.3 370.0,491.3 370.3,493.3 370.6,495.2 371.3,495.3 372.3,493.6 373.1,492.8 373.3,494.8 373.4,496.8 373.6,498.8 373.7,500.8 374.2,502.1 376.0,501.2 377.9,501.0 379.9,501.3 381.7,502.0 383.5,502.9 384.1,504.7 384.5,506.7 384.9,508.7 385.2,510.6 385.7,512.6 386.3,514.5 386.9,516.4 387.4,518.3 388.0,520.2 388.4,522.2 388.9,524.1 389.4,526.1 389.9,528.0 390.5,529.9 391.2,531.8 391.9,533.6 392.7,535.5 393.6,537.3 394.5,539.0 394.9,541.0 395.2,543.0 395.5,545.0 395.7,546.9 396.0,548.9 396.3,550.9 396.6,552.9 396.8,554.9 397.1,556.9 397.4,558.8 397.7,560.8 398.1,562.8 398.6,564.7 399.1,566.6 399.6,568.6 400.1,570.5 400.5,572.5 400.9,574.4 401.3,576.4 401.7,578.3 402.1,580.3 402.5,582.3 402.8,584.2 403.2,586.2 403.6,588.2 404.0,590.1 404.3,592.1 404.7,594.1 405.0,596.0 405.3,598.0 405.6,600.0 406.0,602.0 406.4,603.9 406.8,605.9 407.3,607.8 407.7,609.8 408.1,611.7 408.8,613.6 409.5,615.5 410.2,617.3 411.0,619.2 411.6,621.1 412.2,623.0 412.8,624.9 413.3,626.8 413.8,628.8 414.2,630.7 414.6,632.7 415.1,634.6 415.5,636.6 416.0,638.5 416.5,640.5 417.1,642.4 417.7,644.3 418.5,646.0 420.0,647.5 421.2,649.0 421.6,650.9 421.9,652.9 422.3,654.9 423.2,655.9 425.0,655.1 426.4,653.7 427.5,652.0 428.6,650.4 429.4,651.9 430.1,653.7 430.8,655.6 431.6,657.4 433.4,657.4 435.3,657.0 436.9,655.8 438.5,654.6 440.0,653.3 441.4,651.9 442.8,650.4 444.2,649.0 445.8,647.8 447.5,646.7 449.2,645.6 449.8,643.7 450.3,641.8 450.9,639.9 451.5,638.0 453.1,636.8 454.6,635.9 455.4,637.7 456.2,639.6 457.1,640.6 458.3,639.1 459.6,637.5 461.3,638.1 463.0,639.1 464.0,638.3 464.6,636.3 465.2,634.4 465.7,632.5 466.8,630.8 468.0,629.3 469.4,627.8 471.1,626.8 472.8,625.8 473.6,624.0 474.5,622.2 475.4,620.4 476.2,618.6 476.9,616.7 478.2,615.2 479.6,613.8 481.2,612.6 483.0,611.8 484.9,611.0 486.6,610.1 488.0,608.7 489.4,607.3 490.9,605.9 492.6,604.8 494.2,603.7 495.9,602.7 497.7,601.8 499.5,600.9 501.3,600.0 503.2,599.4 505.1,598.7 507.1,598.5 509.1,598.5 511.1,598.5 513.0,598.1 515.0,597.7 516.7,596.7 518.4,595.7" fill="none" stroke="#1414f0" stroke-width="4.4" stroke-linejoin="round" stroke-linecap="round" opacity="0.85"/>
<polyline points="518.4,595.7 519.9,595.8 521.2,597.3 522.4,598.9 524.0,600.1 525.7,601.1 527.0,601.9" fill="none" stroke="#1414f0" stroke-width="3.0" stroke-linejoin="round" stroke-linecap="round" opacity="0.85"/>
<polyline points="135.9,600.9 136.5,599.0 137.0,597.1 137.7,595.2 138.9,593.6 140.2,592.0 141.2,590.3 142.2,589.6 143.3,591.3 144.5,592.8 145.9,594.2 147.3,595.3 147.9,593.4 148.6,591.5 149.3,589.7 150.1,588.2 151.3,589.7 152.6,591.2 153.8,589.6 155.0,587.9 156.4,586.5 158.1,585.5 159.7,585.4 161.1,586.8 162.0,585.3 162.8,583.5 163.7,581.6 164.6,579.9 166.3,581.0 167.7,580.7 168.7,579.0 169.8,577.3 171.1,578.6 172.4,580.2 173.5,580.2 174.5,578.5 175.5,577.6 176.6,579.3 177.6,580.0 178.3,578.1 179.0,576.2 179.7,574.3 180.4,572.5 181.3,572.9 182.4,574.5 183.3,576.3 184.0,578.2 184.7,580.1 185.4,579.0 186.0,577.1 186.7,575.3 187.7,573.6 189.3,572.5 191.1,572.1 192.9,572.7 194.7,572.1 196.4,571.1 197.2,569.4 197.8,567.4 198.3,565.5 199.3,563.8 200.7,562.4 201.5,563.3 202.2,565.2 202.8,567.1 203.4,569.1 204.0,567.9 204.6,566.0 205.3,564.1 205.9,562.2 206.5,560.3 207.2,558.4 208.8,557.2 210.1,555.7 210.9,553.9 211.7,552.1 212.5,550.3 212.9,551.1 212.9,553.1 213.0,555.1 213.1,557.1 213.2,559.1 213.3,561.1 213.3,563.1 213.6,564.0 214.2,562.1 214.8,560.2 215.4,558.3 216.5,556.8 218.4,556.0 220.2,555.3 222.0,554.5 222.4,552.5 222.8,550.6 223.2,548.6 223.7,546.7 224.1,547.3 224.6,549.2 225.0,551.2 225.5,553.1 226.0,555.1 226.7,556.2 228.4,555.2 229.7,553.8 230.5,551.9 231.3,550.1 232.1,548.2 233.3,546.8 234.9,546.2 235.3,548.1 235.6,550.1 236.0,552.1 236.3,554.1 236.7,556.0 237.0,558.0 237.4,560.0 237.9,558.5 238.6,556.6 239.2,554.7 239.7,552.8 240.3,550.9 240.8,548.9 241.4,547.0 241.9,545.1 242.5,543.2 243.0,542.2 243.2,544.1 243.4,546.1 243.7,548.1 243.9,550.1 244.2,552.1 244.4,554.1 244.7,556.0 245.3,556.3 246.3,554.6 247.4,552.9 248.7,553.0 250.1,554.4 251.5,555.8 252.8,554.3 254.1,552.7 255.5,551.2 256.9,549.8 258.3,548.4 259.8,547.1 261.4,545.9 263.0,544.8 264.6,543.5 266.1,542.2 267.7,541.0 269.2,539.9 269.9,538.0 270.6,536.1" fill="none" stroke="#bcbcee" stroke-width="2.2" stroke-linejoin="round" stroke-linecap="round"/>
<polyline points="270.6,536.1 271.3,534.2 272.0,532.4 272.6,530.5 273.7,529.2 275.7,529.2 277.2,528.4 277.8,526.5 278.4,524.6 279.1,522.7 279.7,520.8 280.5,519.0 281.4,517.2 282.3,515.4 283.2,513.6 284.0,511.8 284.6,509.9 285.2,508.0 285.7,506.1 286.4,504.2 287.1,502.3 287.8,500.4 288.5,498.5 288.7,496.6 289.0,494.6 289.2,492.6 289.5,490.6 289.7,488.6 289.9,486.6 290.4,484.7 290.9,482.7 291.3,480.8 291.8,478.9 292.3,476.9 292.7,475.0 293.2,473.0 293.6,471.1 294.1,469.1 294.5,467.2 294.9,465.2 295.4,463.3 295.7,464.9 296.0,466.9 296.4,468.9 296.7,470.8 297.0,472.8 297.3,474.8 297.7,476.8 298.0,475.1 298.3,473.1 298.6,471.1 298.9,469.1 299.2,467.2 299.5,465.2 299.7,463.2 300.1,461.2 300.7,459.3 301.4,457.4 302.0,455.5 302.6,453.7 303.3,451.8 303.9,451.1 304.6,453.0 305.2,454.9 305.8,456.8 306.5,458.7 306.8,456.9 307.1,454.9 307.4,453.0 307.8,451.0 308.1,449.0 308.4,447.0 308.7,445.1 309.1,443.1 310.3,441.9 312.2,441.4 313.6,442.3 314.6,444.0 315.4,445.8 315.7,447.8 316.0,449.7 316.3,451.7 316.7,453.7 317.0,455.7 317.3,457.6 317.7,459.6 318.0,461.4 318.5,459.5 318.9,457.5 319.4,455.6 319.8,453.6 320.3,451.7 320.7,449.7 321.2,447.8 321.6,445.8 322.1,443.9 322.6,442.0 323.0,440.0 323.5,438.1 324.0,436.1 324.4,434.2 324.8,432.2 325.1,430.2 325.4,428.3 325.7,426.3 326.1,424.3 326.6,422.5 328.0,421.1 328.6,422.6 329.1,424.6 329.5,426.5 329.8,424.5 330.1,422.5 330.4,420.5 330.7,421.4 331.0,423.4 331.2,425.4 332.0,427.1 333.3,428.6 333.6,430.6 333.9,432.6 334.2,434.6 334.5,436.6 334.8,438.5 335.2,440.1 335.9,438.2 336.6,436.4 337.3,434.5 338.2,432.9 339.4,433.9 339.7,435.8 340.1,437.8 340.5,439.8 340.8,441.7 341.2,443.7 341.4,445.7 341.6,447.7 341.8,449.7 342.2,451.6 343.8,452.8 345.6,453.2 347.3,452.7 348.0,450.8 348.7,449.0 349.5,447.1 350.2,445.2 350.5,446.5 350.7,448.5 350.9,450.5 351.1,452.5 351.3,454.5 351.5,456.5 351.7,458.5 352.7,460.1 353.9,461.7 355.2,463.3 356.4,464.8 357.7,466.4 359.0,467.9 360.3,469.4 361.2,471.2 361.9,473.0 362.6,474.9 363.3,476.8 363.9,478.7 364.4,480.6 365.0,482.5 365.6,484.5 366.0,486.4 366.5,488.4 367.1,489.7 368.3,488.1 369.3,487.3 369.6,489.3 370.0,491.3 370.3,493.3 370.6,495.2 371.3,495.3 372.3,493.6 373.1,492.8 373.3,494.8 373.4,496.8 373.6,498.8 373.7,500.8 374.2,502.1 376.0,501.2 377.9,501.0 379.9,501.3 381.7,502.0 383.5,502.9 384.1,504.7 384.5,506.7 384.9,508.7 385.2,510.6 385.7,512.6 386.3,514.5 386.9,516.4 387.4,518.3 388.0,520.2 388.4,522.2 388.9,524.1 389.4,526.1 389.9,528.0 390.5,529.9 391.2,531.8 391.9,533.6 392.7,535.5 393.6,537.3 394.5,539.0 394.9,541.0 395.2,543.0 395.5,545.0 395.7,546.9 396.0,548.9 396.3,550.9 396.6,552.9 396.8,554.9 397.1,556.9 397.4,558.8 397.7,560.8 398.1,562.8 398.6,564.7 399.1,566.6 399.6,568.6 400.1,570.5 400.5,572.5 400.9,574.4 401.3,576.4 401.7,578.3 402.1,580.3 402.5,582.3 402.8,584.2 403.2,586.2 403.6,588.2 404.0,590.1 404.3,592.1 404.7,594.1 405.0,596.0 405.3,598.0 405.6,600.0 406.0,602.0 406.4,603.9 406.8,605.9 407.3,607.8 407.7,609.8 408.1,611.7 408.8,613.6 409.5,615.5 410.2,617.3 411.0,619.2 411.6,621.1 412.2,623.0 412.8,624.9 413.3,626.8 413.8,628.8 414.2,630.7 414.6,632.7 415.1,634.6 415.5,636.6 416.0,638.5 416.5,640.5 417.1,642.4 417.7,644.3 418.5,646.0 420.0,647.5 421.2,649.0 421.6,650.9 421.9,652.9 422.3,654.9 423.2,655.9 425.0,655.1 426.4,653.7 427.5,652.0 428.6,650.4 429.4,651.9 430.1,653.7 430.8,655.6 431.6,657.4 433.4,657.4 435.3,657.0 436.9,655.8 438.5,654.6 440.0,653.3 441.4,651.9 442.8,650.4 444.2,649.0 445.8,647.8 447.5,646.7 449.2,645.6 449.8,643.7 450.3,641.8 450.9,639.9 451.5,638.0 453.1,636.8 454.6,635.9 455.4,637.7 456.2,639.6 457.1,640.6 458.3,639.1 459.6,637.5 461.3,638.1 463.0,639.1 464.0,638.3 464.6,636.3 465.2,634.4 465.7,632.5 466.8,630.8 468.0,629.3 469.4,627.8 471.1,626.8 472.8,625.8 473.6,624.0 474.5,622.2 475.4,620.4 476.2,618.6 476.9,616.7 478.2,615.2 479.6,613.8 481.2,612.6 483.0,611.8 484.9,611.0 486.6,610.1 488.0,608.7 489.4,607.3 490.9,605.9 492.6,604.8 494.2,603.7 495.9,602.7 497.7,601.8 499.5,600.9 501.3,600.0 503.2,599.4 505.1,598.7 507.1,598.5 509.1,598.5 511.1,598.5 513.0,598.1 515.0,597.7 516.7,596.7 518.4,595.7" fill="none" stroke="#bcbcee" stroke-width="2.4" stroke-linejoin="round" stroke-linecap="round"/>
<polyline points="518.4,595.7 519.9,595.8 521.2,597.3 522.4,598.9 524.0,600.1 525.7,601.1 527.0,601.9" fill="none" stroke="#bcbcee" stroke-width="1.0" stroke-linejoin="round" stroke-linecap="round"/>
<polyline points="136.8,602.5 135.4,597.5 137.5,599.2 136.3,594.3 138.6,596.5 138.4,592.1 140.5,593.8 140.2,589.4 142.0,591.5 142.9,588.1 142.5,593.3 144.9,590.8 144.8,595.4 147.0,592.6 147.9,596.4 147.3,592.2 149.3,593.4 148.3,588.9 150.1,590.3 150.6,586.8 150.9,591.0 152.6,588.7 153.9,591.9 153.5,586.9 155.9,589.5 155.8,584.5 158.2,587.7 159.2,583.2 159.7,587.9 161.1,585.2 162.8,587.0 161.8,582.1 164.2,584.3 163.5,579.5 164.9,581.8 166.6,578.8 168.0,583.1 167.4,577.6 169.7,579.7 170.1,575.9 170.6,580.0 172.8,577.9 173.3,583.0 173.1,577.7 175.4,580.1 175.8,575.8 175.7,580.7 177.4,578.1 178.7,581.0 177.5,575.9 179.8,577.9 178.7,573.1 181.0,575.1 180.7,570.0 181.0,574.6 183.1,572.9 182.4,577.6 184.5,575.9 183.5,580.6 184.9,578.7 186.2,580.6 185.1,576.0 187.2,577.5 186.0,572.4 188.4,574.8 189.0,571.1 190.7,574.0 192.4,570.7 193.8,574.6 194.6,570.1 196.9,572.7 196.4,568.3 198.2,569.4 196.9,564.7 199.4,567.2 198.7,562.3 200.8,564.5 201.8,561.0 201.1,565.4 203.3,563.7 201.8,569.1 203.9,567.2 204.4,570.1 203.3,565.3 205.8,567.4 204.4,562.5 206.6,564.1 205.6,559.6 207.7,561.4 206.7,556.1 209.4,559.3 209.3,554.7 211.4,556.4 210.2,551.1 212.8,553.6 212.0,548.6 212.1,552.0 213.7,551.1 211.9,555.6 213.8,554.3 211.9,558.9 214.2,557.0 212.2,561.8 214.5,560.0 212.2,565.4 212.9,562.2 214.8,563.7 213.7,559.2 215.9,561.0 214.9,556.4 217.1,559.0 217.7,554.2 219.7,557.0 220.7,553.4 222.8,555.7 221.5,550.9 223.6,552.4 222.2,547.9 224.5,549.7 223.3,544.8 223.1,549.1 225.3,547.4 223.7,552.4 226.3,550.0 224.8,555.0 226.9,553.4 226.2,557.9 227.4,553.9 229.7,556.6 229.1,551.6 231.3,553.5 230.5,549.2 232.4,550.3 231.7,545.7 233.9,548.1 235.3,544.6 234.2,549.4 236.6,547.4 234.8,552.5 236.9,551.1 235.3,555.7 237.4,554.2 235.8,559.0 237.9,557.5 237.7,561.7 237.1,556.9 239.5,559.0 238.2,554.1 240.1,555.3 239.1,551.1 241.0,552.3 239.9,547.9 242.0,549.3 240.6,544.4 242.9,546.3 241.6,541.6 242.7,543.5 244.2,541.6 242.1,546.8 244.4,545.0 242.5,550.0 244.7,548.3 242.9,553.2 245.3,551.3 243.4,556.2 245.5,554.5 245.4,558.2 245.3,553.9 247.6,555.9 247.3,550.9 248.2,555.0 250.3,552.4 250.6,557.1 251.7,553.6 253.6,555.4 253.6,551.1 255.8,553.4 255.7,548.6 257.9,550.6 258.0,546.2 260.3,548.9 260.7,544.8 262.8,546.8 263.3,542.8 265.5,545.3 265.6,540.4 267.8,542.8 268.1,538.6 270.2,540.6 269.3,536.1 271.4,537.7 270.1,532.7 272.7,535.1 271.3,529.7 273.7,532.2 273.5,527.2 275.3,530.7 276.5,527.7 278.2,529.1 277.2,524.6 279.3,526.3 277.9,521.1 280.4,523.4 279.2,518.4 281.4,520.1 280.4,515.0 283.0,517.7 282.1,512.7 284.2,514.2 283.0,509.3 285.3,511.4 284.0,506.4 286.2,508.2 285.0,503.5 287.3,505.4 286.0,500.2 288.4,502.3 287.5,497.9 289.4,499.2 287.6,494.3 290.2,496.6 288.1,491.2 290.5,493.2 288.7,488.3 290.6,489.7 289.2,485.3 291.5,487.1 289.9,482.2 292.0,483.7 290.6,478.9 292.6,480.3 291.3,475.7 293.7,477.8 292.1,472.7 294.0,474.0 292.6,469.3 295.0,471.3 293.4,466.3 295.5,467.8 293.9,462.8 295.6,464.8 296.4,463.1 295.0,467.5 297.1,466.0 295.5,470.9 297.7,469.1 295.9,474.3 298.4,472.0 296.5,477.2 297.3,475.2 299.1,477.0 297.5,472.2 299.3,473.4 297.9,469.0 300.0,470.5 298.0,465.3 300.2,466.9 298.7,462.5 301.0,464.4 299.2,459.0 301.4,460.7 300.3,456.0 302.8,458.3 301.4,453.2 303.5,454.7 302.4,449.9 303.5,452.5 305.0,450.9 304.1,455.2 306.2,453.7 305.1,458.2 306.9,456.6 307.6,459.4 305.9,454.4 308.1,456.1 306.3,451.1 308.5,452.7 307.1,448.3 309.4,450.2 307.3,444.7 309.9,447.1 307.9,441.6 310.0,444.0 310.8,439.5 312.4,443.3 314.1,440.8 313.8,445.2 315.9,443.6 314.3,448.5 316.6,446.7 315.1,451.3 317.3,449.6 315.8,454.2 317.9,452.6 316.0,457.9 318.5,455.7 316.4,461.2 318.7,459.2 318.9,462.1 317.5,457.2 320.0,459.4 318.4,454.4 320.5,456.0 319.2,451.5 321.5,453.2 319.8,448.1 322.2,450.1 320.6,445.1 322.7,446.6 321.2,441.8 323.6,443.8 321.8,438.4 324.2,440.4 322.6,435.4 324.9,437.3 323.3,432.2 325.8,434.5 323.9,429.3 326.1,431.0 324.6,426.4 326.9,428.2 324.9,422.8 327.0,424.7 326.7,420.5 327.9,422.7 329.8,420.6 328.2,425.5 330.3,423.8 330.5,427.4 328.9,422.4 331.1,424.2 329.5,419.3 329.7,422.4 331.6,420.9 329.8,425.8 332.0,424.1 331.2,428.3 333.7,426.1 332.4,431.2 334.8,429.1 332.8,434.4 335.3,432.2 333.6,437.0 335.4,436.1 334.0,440.4 334.9,437.9 336.5,440.0 335.4,435.4 337.9,437.6 336.8,432.7 338.4,434.8 340.2,431.3 338.5,436.9 340.8,435.1 339.2,439.8 341.3,438.3 339.6,443.4 342.2,441.0 340.2,446.3 342.3,444.6 340.5,449.5 342.8,447.7 341.0,452.8 343.4,450.4 343.8,455.3 345.7,451.1 347.6,454.9 346.8,449.8 349.3,452.1 348.0,446.8 350.5,449.2 349.5,444.3 349.3,447.8 351.7,445.5 349.7,450.6 352.1,448.6 350.2,453.5 352.1,452.2 350.2,457.1 352.7,455.0 350.8,460.1 353.4,457.6 352.7,463.0 354.9,461.0 354.9,465.1 357.0,463.4 356.8,467.9 359.1,465.6 359.0,470.1 361.3,468.0 360.6,472.5 362.8,470.6 361.3,476.2 363.8,473.9 362.5,478.8 364.7,477.2 363.4,482.0 365.6,480.2 364.1,485.4 366.8,482.8 365.0,488.3 367.5,486.0 366.3,491.0 367.1,487.6 369.1,489.5 369.8,485.9 368.6,490.5 371.0,488.4 369.0,494.0 371.6,491.6 369.9,496.7 370.7,494.1 372.5,495.6 372.3,491.3 372.5,494.5 374.3,493.1 372.5,497.8 374.6,496.2 372.5,501.2 374.7,499.4 374.1,503.8 375.3,499.3 377.2,502.9 378.8,499.0 380.1,503.3 382.1,500.1 382.7,504.4 384.6,502.6 383.3,507.1 385.6,505.3 384.0,510.1 386.3,508.3 384.4,513.8 387.0,511.3 385.4,516.8 387.8,514.7 386.6,519.3 388.6,518.0 387.1,522.9 389.7,520.5 388.2,525.5 390.0,524.4 388.8,528.8 390.9,527.2 389.8,532.1 391.9,530.4 390.8,535.3 393.1,533.2 392.1,538.3 394.5,536.0 393.7,540.6 395.6,539.2 393.8,544.2 396.3,542.1 394.4,547.3 396.5,545.7 395.0,550.2 397.3,548.3 395.2,553.7 397.8,551.3 396.0,556.2 398.0,554.9 396.0,560.1 398.5,558.0 396.6,563.2 399.0,561.3 397.8,565.6 400.1,563.8 398.5,568.9 400.7,567.2 399.2,572.1 401.4,570.4 399.6,575.7 402.2,573.2 400.2,578.8 402.5,576.9 400.9,581.8 403.1,580.2 401.7,584.6 404.1,582.6 402.4,587.7 404.4,586.2 402.8,591.1 404.9,589.5 403.3,594.3 405.7,592.3 404.1,597.0 406.4,595.2 404.7,600.1 406.8,598.6 405.1,603.5 407.1,602.2 405.9,606.4 408.2,604.6 406.2,610.1 408.6,608.1 406.9,613.3 409.6,610.8 408.0,616.4 410.5,614.1 409.5,618.9 411.7,617.1 410.3,622.4 412.8,620.0 411.3,625.2 413.8,622.9 412.3,628.1 414.6,626.3 412.9,631.5 415.1,629.7 413.5,634.7 415.7,633.0 414.4,637.5 416.6,635.6 415.3,640.3 417.6,638.4 416.1,643.6 418.2,642.1 417.2,646.7 419.5,644.4 419.4,649.2 421.7,647.3 420.6,651.5 422.8,649.9 421.2,654.6 423.1,653.4 422.6,658.3 423.8,653.2 426.3,656.9 426.0,651.9 428.0,653.4 427.9,648.6 428.3,653.0 430.5,651.0 429.6,655.4 431.7,653.9 430.9,658.6 432.6,655.5 434.4,659.6 435.4,655.2 437.3,657.3 437.6,652.8 439.8,655.3 440.1,651.1 442.3,653.3 442.1,648.2 444.4,651.0 444.7,646.6 446.9,649.2 447.5,644.9 449.8,647.3 448.7,642.3 450.9,644.1 449.5,639.1 451.8,640.9 450.9,636.6 453.3,639.0 453.9,634.2 454.1,638.8 456.2,636.7 455.3,641.5 456.9,638.9 458.5,641.4 458.3,637.0 460.0,639.4 461.7,636.0 462.4,640.8 463.2,637.2 465.2,639.3 463.7,634.2 466.0,636.1 464.9,631.5 467.0,633.2 466.6,628.4 469.0,631.1 468.7,625.5 471.2,629.0 471.7,624.5 473.7,626.6 473.0,621.8 475.4,624.1 474.5,619.2 476.8,621.2 475.4,615.7 477.8,618.0 477.5,613.0 479.9,615.8 480.0,610.9 482.3,614.5 483.2,610.1 485.2,612.8 485.8,608.1 487.9,610.7 488.1,606.5 490.3,608.8 490.3,603.8 492.7,607.0 493.0,601.9 495.4,605.3 496.0,601.1 498.0,603.3 498.9,599.6 500.9,602.1 501.9,598.3 503.8,601.2 504.9,596.7 506.7,600.1 508.3,596.2 509.9,600.3 511.3,596.0 513.2,599.9 514.3,595.8 516.3,598.3 517.2,595.3 518.9,596.8 520.2,594.9 520.6,598.0 522.3,597.3 522.6,600.9 524.6,599.1 525.5,602.0 527.2,600.8" fill="none" stroke="#1414f0" stroke-width="1.0" stroke-linejoin="round"/>
</g>
<g transform="translate(23.95,87.45) rotate(0)"><text style="font-family:'Liberation Serif',serif;font-size:44px">4.2</text></g>
<g transform="translate(24.40,201.35) rotate(0)"><text style="font-family:'Liberation Serif',serif;font-size:44px">3.8</text></g>
<g transform="translate(23.90,314.15) rotate(0)"><text style="font-family:'Liberation Serif',serif;font-size:44px">3.4</text></g>
<g transform="translate(114.85,68.90) rotate(0)"><text style="font-family:'Liberation Serif',serif;font-size:44px">3</text></g>
<g transform="translate(112.65,149.65) rotate(0)"><text style="font-family:'Liberation Serif',serif;font-size:44px">2</text></g>
<g transform="translate(114.25,289.90) rotate(0)"><text style="font-family:'Liberation Serif',serif;font-size:44px">1</text></g>
<g transform="translate(572.50,71.25) rotate(0)"><text style="font-family:'Liberation Serif',serif;font-size:44px">1.0</text></g>
<g transform="translate(576.10,196.25) rotate(0)"><text style="font-family:'Liberation Serif',serif;font-size:44px">0.6</text></g>
<g transform="translate(577.90,314.15) rotate(0)"><text style="font-family:'Liberation Serif',serif;font-size:44px">0.2</text></g>
<g transform="translate(143.70,363.20) rotate(0)"><text style="font-family:'Liberation Serif',serif;font-size:44px">2.2</text></g>
<g transform="translate(252.30,361.95) rotate(0)"><text style="font-family:'Liberation Serif',serif;font-size:44px">2.4</text></g>
<g transform="translate(360.45,361.95) rotate(0)"><text style="font-family:'Liberation Serif',serif;font-size:44px">2.6</text></g>
<g transform="translate(475.10,361.95) rotate(0)"><text style="font-family:'Liberation Serif',serif;font-size:44px">2.8</text></g>
<g transform="translate(245.95,402.20) rotate(0)"><text style="font-family:'Liberation Serif',serif;font-size:43px">Energy, eV</text></g>
<g transform="translate(505.45,42.00) rotate(0)"><text style="font-family:'Liberation Serif',serif;font-size:44px">A</text></g>
<g transform="translate(249.40,45.65) rotate(0)"><text style="font-family:'Liberation Serif',serif;font-size:36px">K</text></g>
<g transform="translate(247.35,155.30) rotate(0)"><text style="font-family:'Liberation Serif',serif;font-size:36px">k</text></g>
<g transform="translate(221.75,239.45) rotate(0)"><text style="font-family:'Liberation Serif',serif;font-size:36px">n</text></g>
<g transform="translate(338.55,284.10) rotate(0)"><text style="font-family:'Liberation Serif',serif;font-size:33px;font-weight:bold">E2</text></g>
<g transform="translate(498.25,96.00) rotate(0)"><text style="font-family:'Liberation Serif',serif;font-size:35px">E</text></g>
<g transform="translate(536.50,96.65) rotate(0)"><text style="font-family:'Liberation Serif',serif;font-size:35px">b</text></g>
<g transform="translate(496.25,128.25) rotate(0)"><text style="font-family:'Liberation Serif',serif;font-size:34.5px">10K</text></g>
<g transform="translate(520.00,90.25) rotate(0)"><text style="font-family:'Liberation Sans',sans-serif;font-size:26.5px;font-weight:bold">||</text></g>
<g transform="translate(29.60,159.65) rotate(-90)"><text style="font-family:'Liberation Serif',serif;font-size:44px">n</text></g>
<g transform="translate(638.70,148.95) rotate(-90)"><text style="font-family:'Liberation Serif',serif;font-size:43px">k</text></g>
<g transform="translate(125.95,258.55) rotate(-90)"><text style="font-family:'Liberation Serif',serif;font-size:41px">10<tspan style="font-size:24px" dy="-15">3</tspan><tspan dy="15">cm</tspan><tspan style="font-size:24px" dy="-15">-1</tspan></text></g>
<g transform="translate(36.20,469.85) rotate(0)"><text style="font-family:'Liberation Serif',serif;font-size:44px">18</text></g>
<g transform="translate(34.95,539.20) rotate(0)"><text style="font-family:'Liberation Serif',serif;font-size:44px">16</text></g>
<g transform="translate(34.35,613.50) rotate(0)"><text style="font-family:'Liberation Serif',serif;font-size:44px">14</text></g>
<g transform="translate(36.85,675.30) rotate(0)"><text style="font-family:'Liberation Serif',serif;font-size:44px">12</text></g>
<g transform="translate(571.05,470.25) rotate(0)"><text style="font-family:'Liberation Serif',serif;font-size:44px">7</text></g>
<g transform="translate(573.75,549.15) rotate(0)"><text style="font-family:'Liberation Serif',serif;font-size:44px">5</text></g>
<g transform="translate(572.65,621.60) rotate(0)"><text style="font-family:'Liberation Serif',serif;font-size:44px">3</text></g>
<g transform="translate(573.65,696.10) rotate(0)"><text style="font-family:'Liberation Serif',serif;font-size:44px">1</text></g>
<g transform="translate(136.30,740.90) rotate(0)"><text style="font-family:'Liberation Serif',serif;font-size:44px">2.2</text></g>
<g transform="translate(238.20,741.85) rotate(0)"><text style="font-family:'Liberation Serif',serif;font-size:44px">2.4</text></g>
<g transform="translate(346.50,739.00) rotate(0)"><text style="font-family:'Liberation Serif',serif;font-size:44px">2.6</text></g>
<g transform="translate(457.50,739.00) rotate(0)"><text style="font-family:'Liberation Serif',serif;font-size:44px">2.8</text></g>
<g transform="translate(244.35,781.15) rotate(0)"><text style="font-family:'Liberation Serif',serif;font-size:43px">Energy, eV</text></g>
<g transform="translate(498.85,488.00) rotate(0)"><text style="font-family:'Liberation Serif',serif;font-size:44px">B</text></g>
<g transform="translate(154.95,460.25) rotate(0)"><text style="font-family:'Liberation Serif',serif;font-size:35px">E</text></g>
<g transform="translate(193.00,460.85) rotate(0)"><text style="font-family:'Liberation Serif',serif;font-size:35px">b</text></g>
<g transform="translate(155.60,497.60) rotate(0)"><text style="font-family:'Liberation Serif',serif;font-size:34.5px">10K</text></g>
<g transform="translate(176.20,455.40) rotate(0)"><text style="font-family:'Liberation Sans',sans-serif;font-size:26.5px;font-weight:bold">||</text></g>
<g transform="translate(341.50,651.65) rotate(0)"><text style="font-family:'Liberation Serif',serif;font-size:33px;font-weight:bold">E2</text></g>
<g transform="translate(154.10,552.75) rotate(0)"><text style="font-family:'Liberation Serif',serif;font-size:42px">ε<tspan style="font-size:34px" dy="11">1</tspan></text></g>
<g transform="translate(181.05,642.70) rotate(0)"><text style="font-family:'Liberation Serif',serif;font-size:42px">ε<tspan style="font-size:34px" dy="11">2</tspan></text></g>
<g transform="translate(29.65,579.40) rotate(-90)"><text style="font-family:'Liberation Serif',serif;font-size:42px">ε<tspan style="font-size:26px" dy="13">2</tspan></text></g>
<g transform="translate(627.20,586.65) rotate(-90)"><text style="font-family:'Liberation Serif',serif;font-size:42px">ε<tspan style="font-size:25px" dy="13">1</tspan></text></g>
</svg></body></html>
